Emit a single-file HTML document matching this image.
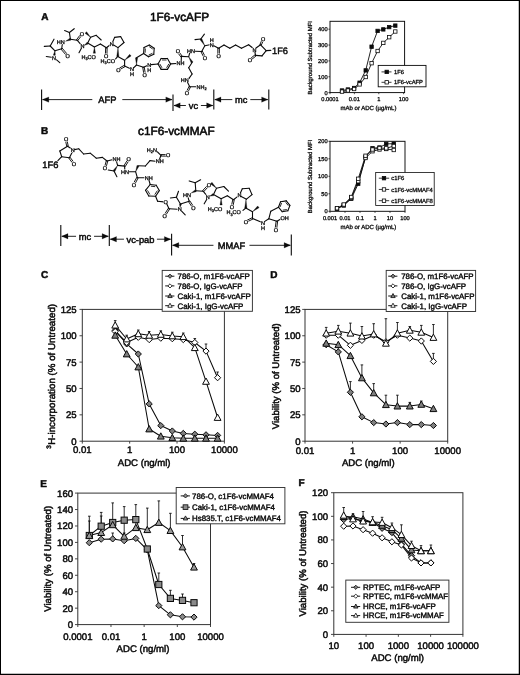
<!DOCTYPE html>
<html lang="en">
<head>
<meta charset="utf-8">
<title>Figure</title>
<style>
html,body{margin:0;padding:0;background:#fff;}
body{width:520px;height:675px;overflow:hidden;font-family:"Liberation Sans", sans-serif;}
svg{display:block;}
</style>
</head>
<body>
<svg width="520" height="675" viewBox="0 0 520 675" font-family='"Liberation Sans", sans-serif' text-rendering="geometricPrecision">
<rect x="0" y="0" width="520" height="675" fill="#fff"/>
<text x="41.3" y="19.7" font-size="10" text-anchor="start" font-weight="bold" fill="#0a0a0a" stroke="#0a0a0a" stroke-width="0.5" stroke-linejoin="round">A</text>
<text x="150" y="20.95" font-size="11.8" text-anchor="start" font-weight="normal" fill="#0a0a0a" stroke="#0a0a0a" stroke-width="0.59" stroke-linejoin="round">1F6-vcAFP</text>
<line x1="44.3" y1="46.4" x2="50.2" y2="46" stroke="#0a0a0a" stroke-width="1.1" stroke-linecap="round"/>
<line x1="50.2" y1="46" x2="54" y2="39.2" stroke="#0a0a0a" stroke-width="1.1" stroke-linecap="round"/>
<line x1="50.2" y1="46" x2="55" y2="50.8" stroke="#0a0a0a" stroke-width="1.1" stroke-linecap="round"/>
<polygon points="55,50.8 53.21,55.34 55.39,55.66" fill="#0a0a0a" stroke="#0a0a0a" stroke-width="0.3"/>
<line x1="46.3" y1="56.5" x2="51.5" y2="57.2" stroke="#0a0a0a" stroke-width="1.1" stroke-linecap="round"/>
<line x1="56" y1="59.4" x2="59.8" y2="62.7" stroke="#0a0a0a" stroke-width="1.1" stroke-linecap="round"/>
<text x="54" y="59.58" font-size="5.5" text-anchor="middle" font-weight="normal" fill="#fff" stroke="#fff" stroke-width="1.3" paint-order="stroke" stroke-linejoin="round">N</text>
<text x="54" y="59.58" font-size="5.5" text-anchor="middle" font-weight="normal" fill="#0a0a0a" stroke="#0a0a0a" stroke-width="0.3" stroke-linejoin="round">N</text>
<line x1="55" y1="50.8" x2="61.7" y2="48.8" stroke="#0a0a0a" stroke-width="1.1" stroke-linecap="round"/>
<line x1="61.13" y1="49.29" x2="65.73" y2="54.69" stroke="#0a0a0a" stroke-width="0.94" stroke-linecap="round"/>
<line x1="62.27" y1="48.31" x2="66.87" y2="53.71" stroke="#0a0a0a" stroke-width="0.94" stroke-linecap="round"/>
<text x="67.6" y="57.78" font-size="5.5" text-anchor="middle" font-weight="normal" fill="#fff" stroke="#fff" stroke-width="1.3" paint-order="stroke" stroke-linejoin="round">O</text>
<text x="67.6" y="57.78" font-size="5.5" text-anchor="middle" font-weight="normal" fill="#0a0a0a" stroke="#0a0a0a" stroke-width="0.3" stroke-linejoin="round">O</text>
<line x1="61.7" y1="48.8" x2="62.3" y2="44.3" stroke="#0a0a0a" stroke-width="1.1" stroke-linecap="round"/>
<text x="60.8" y="44.08" font-size="5.5" text-anchor="middle" font-weight="normal" fill="#fff" stroke="#fff" stroke-width="1.3" paint-order="stroke" stroke-linejoin="round">HN</text>
<text x="60.8" y="44.08" font-size="5.5" text-anchor="middle" font-weight="normal" fill="#0a0a0a" stroke="#0a0a0a" stroke-width="0.3" stroke-linejoin="round">HN</text>
<polygon points="65.5,41.3 70.83,40.21 69.97,38.19" fill="#0a0a0a" stroke="#0a0a0a" stroke-width="0.3"/>
<line x1="70.4" y1="39.2" x2="69.4" y2="32.5" stroke="#0a0a0a" stroke-width="1.1" stroke-linecap="round"/>
<line x1="69.4" y1="32.5" x2="64.6" y2="30.6" stroke="#0a0a0a" stroke-width="1.1" stroke-linecap="round"/>
<line x1="69.4" y1="32.5" x2="74.2" y2="28.7" stroke="#0a0a0a" stroke-width="1.1" stroke-linecap="round"/>
<line x1="70.4" y1="39.2" x2="77.1" y2="40.2" stroke="#0a0a0a" stroke-width="1.1" stroke-linecap="round"/>
<line x1="77.7" y1="40.65" x2="81.5" y2="35.65" stroke="#0a0a0a" stroke-width="0.94" stroke-linecap="round"/>
<line x1="76.5" y1="39.75" x2="80.3" y2="34.75" stroke="#0a0a0a" stroke-width="0.94" stroke-linecap="round"/>
<text x="82" y="35.78" font-size="5.5" text-anchor="middle" font-weight="normal" fill="#fff" stroke="#fff" stroke-width="1.3" paint-order="stroke" stroke-linejoin="round">O</text>
<text x="82" y="35.78" font-size="5.5" text-anchor="middle" font-weight="normal" fill="#0a0a0a" stroke="#0a0a0a" stroke-width="0.3" stroke-linejoin="round">O</text>
<line x1="77.1" y1="40.2" x2="81" y2="44.6" stroke="#0a0a0a" stroke-width="1.1" stroke-linecap="round"/>
<text x="82.4" y="48.18" font-size="5.5" text-anchor="middle" font-weight="normal" fill="#fff" stroke="#fff" stroke-width="1.3" paint-order="stroke" stroke-linejoin="round">N</text>
<text x="82.4" y="48.18" font-size="5.5" text-anchor="middle" font-weight="normal" fill="#0a0a0a" stroke="#0a0a0a" stroke-width="0.3" stroke-linejoin="round">N</text>
<line x1="81.4" y1="48.2" x2="79" y2="52.7" stroke="#0a0a0a" stroke-width="1.1" stroke-linecap="round"/>
<polygon points="84.2,45.4 88.3,44.02 87.1,42.18" fill="#0a0a0a" stroke="#0a0a0a" stroke-width="0.3"/>
<line x1="87.7" y1="43.1" x2="90.6" y2="37.3" stroke="#0a0a0a" stroke-width="1.1" stroke-linecap="round"/>
<polygon points="90.6,37.3 86.58,31.72 85.02,33.28" fill="#0a0a0a" stroke="#0a0a0a" stroke-width="0.3"/>
<line x1="90.6" y1="37.3" x2="96.2" y2="35.3" stroke="#0a0a0a" stroke-width="1.1" stroke-linecap="round"/>
<line x1="96.2" y1="35.3" x2="101.2" y2="40" stroke="#0a0a0a" stroke-width="1.1" stroke-linecap="round"/>
<line x1="87.7" y1="43.1" x2="94.4" y2="46.9" stroke="#0a0a0a" stroke-width="1.1" stroke-linecap="round"/>
<polygon points="94.4,46.9 93.3,53.2 95.5,53.2" fill="#0a0a0a" stroke="#0a0a0a" stroke-width="0.3"/>
<text x="95.8" y="58.58" font-size="5.5" text-anchor="end" font-weight="normal" fill="#fff" stroke="#fff" stroke-width="1.3" paint-order="stroke" stroke-linejoin="round">H<tspan font-size="3.8" dy="1.2">3</tspan><tspan dy="-1.2" font-size="0.1"> </tspan>CO</text>
<text x="95.8" y="58.58" font-size="5.5" text-anchor="end" font-weight="normal" fill="#0a0a0a" stroke="#0a0a0a" stroke-width="0.3" stroke-linejoin="round">H<tspan font-size="3.8" dy="1.2">3</tspan><tspan dy="-1.2" font-size="0.1"> </tspan>CO</text>
<line x1="94.4" y1="46.9" x2="100.4" y2="44" stroke="#0a0a0a" stroke-width="1.1" stroke-linecap="round"/>
<line x1="100.4" y1="44" x2="106.4" y2="47.8" stroke="#0a0a0a" stroke-width="1.1" stroke-linecap="round"/>
<line x1="105.65" y1="47.77" x2="105.45" y2="53.57" stroke="#0a0a0a" stroke-width="0.94" stroke-linecap="round"/>
<line x1="107.15" y1="47.83" x2="106.95" y2="53.63" stroke="#0a0a0a" stroke-width="0.94" stroke-linecap="round"/>
<text x="106.1" y="57.78" font-size="5.5" text-anchor="middle" font-weight="normal" fill="#fff" stroke="#fff" stroke-width="1.3" paint-order="stroke" stroke-linejoin="round">O</text>
<text x="106.1" y="57.78" font-size="5.5" text-anchor="middle" font-weight="normal" fill="#0a0a0a" stroke="#0a0a0a" stroke-width="0.3" stroke-linejoin="round">O</text>
<line x1="106.4" y1="47.8" x2="110.3" y2="44.8" stroke="#0a0a0a" stroke-width="1.1" stroke-linecap="round"/>
<text x="111.8" y="45.78" font-size="5.5" text-anchor="middle" font-weight="normal" fill="#fff" stroke="#fff" stroke-width="1.3" paint-order="stroke" stroke-linejoin="round">N</text>
<text x="111.8" y="45.78" font-size="5.5" text-anchor="middle" font-weight="normal" fill="#0a0a0a" stroke="#0a0a0a" stroke-width="0.3" stroke-linejoin="round">N</text>
<line x1="112.8" y1="41.8" x2="114.6" y2="37.4" stroke="#0a0a0a" stroke-width="1.1" stroke-linecap="round"/>
<line x1="114.6" y1="37.4" x2="120.6" y2="36.6" stroke="#0a0a0a" stroke-width="1.1" stroke-linecap="round"/>
<line x1="120.6" y1="36.6" x2="124" y2="42.5" stroke="#0a0a0a" stroke-width="1.1" stroke-linecap="round"/>
<line x1="124" y1="42.5" x2="118" y2="47.6" stroke="#0a0a0a" stroke-width="1.1" stroke-linecap="round"/>
<line x1="118" y1="47.6" x2="113.6" y2="45" stroke="#0a0a0a" stroke-width="1.1" stroke-linecap="round"/>
<polygon points="118,47.6 116.7,56.38 118.9,56.42" fill="#0a0a0a" stroke="#0a0a0a" stroke-width="0.3"/>
<text x="115" y="62.78" font-size="5.5" text-anchor="end" font-weight="normal" fill="#fff" stroke="#fff" stroke-width="1.3" paint-order="stroke" stroke-linejoin="round">H<tspan font-size="3.8" dy="1.2">3</tspan><tspan dy="-1.2" font-size="0.1"> </tspan>CO</text>
<text x="115" y="62.78" font-size="5.5" text-anchor="end" font-weight="normal" fill="#0a0a0a" stroke="#0a0a0a" stroke-width="0.3" stroke-linejoin="round">H<tspan font-size="3.8" dy="1.2">3</tspan><tspan dy="-1.2" font-size="0.1"> </tspan>CO</text>
<line x1="117.8" y1="56.4" x2="115.6" y2="58.8" stroke="#0a0a0a" stroke-width="1.1" stroke-linecap="round"/>
<line x1="117.8" y1="56.4" x2="124.6" y2="60.2" stroke="#0a0a0a" stroke-width="1.1" stroke-linecap="round"/>
<polygon points="124.6,60.2 131.12,56.03 129.68,54.37" fill="#0a0a0a" stroke="#0a0a0a" stroke-width="0.3"/>
<line x1="124.6" y1="60.2" x2="124.6" y2="66" stroke="#0a0a0a" stroke-width="1.1" stroke-linecap="round"/>
<line x1="124.23" y1="65.35" x2="119.63" y2="67.95" stroke="#0a0a0a" stroke-width="0.94" stroke-linecap="round"/>
<line x1="124.97" y1="66.65" x2="120.37" y2="69.25" stroke="#0a0a0a" stroke-width="0.94" stroke-linecap="round"/>
<text x="118.3" y="71.58" font-size="5.5" text-anchor="middle" font-weight="normal" fill="#fff" stroke="#fff" stroke-width="1.3" paint-order="stroke" stroke-linejoin="round">O</text>
<text x="118.3" y="71.58" font-size="5.5" text-anchor="middle" font-weight="normal" fill="#0a0a0a" stroke="#0a0a0a" stroke-width="0.3" stroke-linejoin="round">O</text>
<line x1="124.6" y1="66" x2="130" y2="68.4" stroke="#0a0a0a" stroke-width="1.1" stroke-linecap="round"/>
<text x="132" y="71.38" font-size="5.5" text-anchor="middle" font-weight="normal" fill="#fff" stroke="#fff" stroke-width="1.3" paint-order="stroke" stroke-linejoin="round">N</text>
<text x="132" y="71.38" font-size="5.5" text-anchor="middle" font-weight="normal" fill="#0a0a0a" stroke="#0a0a0a" stroke-width="0.3" stroke-linejoin="round">N</text>
<text x="132" y="76.48" font-size="5.5" text-anchor="middle" font-weight="normal" fill="#fff" stroke="#fff" stroke-width="1.3" paint-order="stroke" stroke-linejoin="round">H</text>
<text x="132" y="76.48" font-size="5.5" text-anchor="middle" font-weight="normal" fill="#0a0a0a" stroke="#0a0a0a" stroke-width="0.3" stroke-linejoin="round">H</text>
<line x1="133.6" y1="67.8" x2="136.5" y2="65" stroke="#0a0a0a" stroke-width="1.1" stroke-linecap="round"/>
<polygon points="136.5,65 137.6,57.8 135.4,57.8" fill="#0a0a0a" stroke="#0a0a0a" stroke-width="0.3"/>
<line x1="136.5" y1="57.8" x2="143.6" y2="53.5" stroke="#0a0a0a" stroke-width="1.1" stroke-linecap="round"/>
<line x1="143.6" y1="53.5" x2="144" y2="47.6" stroke="#0a0a0a" stroke-width="1.1" stroke-linecap="round"/>
<line x1="145.08" y1="52.77" x2="145.37" y2="48.52" stroke="#0a0a0a" stroke-width="0.88" stroke-linecap="butt"/>
<line x1="144" y1="47.6" x2="149.3" y2="45" stroke="#0a0a0a" stroke-width="1.1" stroke-linecap="round"/>
<line x1="149.3" y1="45" x2="154.2" y2="48.3" stroke="#0a0a0a" stroke-width="1.1" stroke-linecap="round"/>
<line x1="149.19" y1="46.65" x2="152.72" y2="49.03" stroke="#0a0a0a" stroke-width="0.88" stroke-linecap="butt"/>
<line x1="154.2" y1="48.3" x2="153.8" y2="54.2" stroke="#0a0a0a" stroke-width="1.1" stroke-linecap="round"/>
<line x1="153.8" y1="54.2" x2="148.5" y2="56.8" stroke="#0a0a0a" stroke-width="1.1" stroke-linecap="round"/>
<line x1="152.43" y1="53.28" x2="148.61" y2="55.15" stroke="#0a0a0a" stroke-width="0.88" stroke-linecap="butt"/>
<line x1="148.5" y1="56.8" x2="143.6" y2="53.5" stroke="#0a0a0a" stroke-width="1.1" stroke-linecap="round"/>
<line x1="136.5" y1="65" x2="143.5" y2="67.3" stroke="#0a0a0a" stroke-width="1.1" stroke-linecap="round"/>
<line x1="142.76" y1="67.42" x2="143.66" y2="72.92" stroke="#0a0a0a" stroke-width="0.94" stroke-linecap="round"/>
<line x1="144.24" y1="67.18" x2="145.14" y2="72.68" stroke="#0a0a0a" stroke-width="0.94" stroke-linecap="round"/>
<text x="144.6" y="76.98" font-size="5.5" text-anchor="middle" font-weight="normal" fill="#fff" stroke="#fff" stroke-width="1.3" paint-order="stroke" stroke-linejoin="round">O</text>
<text x="144.6" y="76.98" font-size="5.5" text-anchor="middle" font-weight="normal" fill="#0a0a0a" stroke="#0a0a0a" stroke-width="0.3" stroke-linejoin="round">O</text>
<line x1="143.5" y1="67.3" x2="147.4" y2="65.6" stroke="#0a0a0a" stroke-width="1.1" stroke-linecap="round"/>
<text x="149.3" y="66.98" font-size="5.5" text-anchor="middle" font-weight="normal" fill="#fff" stroke="#fff" stroke-width="1.3" paint-order="stroke" stroke-linejoin="round">N</text>
<text x="149.3" y="66.98" font-size="5.5" text-anchor="middle" font-weight="normal" fill="#0a0a0a" stroke="#0a0a0a" stroke-width="0.3" stroke-linejoin="round">N</text>
<text x="149.3" y="71.78" font-size="5.5" text-anchor="middle" font-weight="normal" fill="#fff" stroke="#fff" stroke-width="1.3" paint-order="stroke" stroke-linejoin="round">H</text>
<text x="149.3" y="71.78" font-size="5.5" text-anchor="middle" font-weight="normal" fill="#0a0a0a" stroke="#0a0a0a" stroke-width="0.3" stroke-linejoin="round">H</text>
<line x1="151.2" y1="64.6" x2="158" y2="64" stroke="#0a0a0a" stroke-width="1.1" stroke-linecap="round"/>
<line x1="170.6" y1="63.9" x2="167.45" y2="69.36" stroke="#0a0a0a" stroke-width="1.1" stroke-linecap="round"/>
<line x1="168.84" y1="63.9" x2="166.57" y2="67.83" stroke="#0a0a0a" stroke-width="0.88" stroke-linecap="butt"/>
<line x1="167.45" y1="69.36" x2="161.15" y2="69.36" stroke="#0a0a0a" stroke-width="1.1" stroke-linecap="round"/>
<line x1="161.15" y1="69.36" x2="158" y2="63.9" stroke="#0a0a0a" stroke-width="1.1" stroke-linecap="round"/>
<line x1="162.03" y1="67.83" x2="159.76" y2="63.9" stroke="#0a0a0a" stroke-width="0.88" stroke-linecap="butt"/>
<line x1="158" y1="63.9" x2="161.15" y2="58.44" stroke="#0a0a0a" stroke-width="1.1" stroke-linecap="round"/>
<line x1="161.15" y1="58.44" x2="167.45" y2="58.44" stroke="#0a0a0a" stroke-width="1.1" stroke-linecap="round"/>
<line x1="162.03" y1="59.97" x2="166.57" y2="59.97" stroke="#0a0a0a" stroke-width="0.88" stroke-linecap="butt"/>
<line x1="167.45" y1="58.44" x2="170.6" y2="63.9" stroke="#0a0a0a" stroke-width="1.1" stroke-linecap="round"/>
<line x1="170.6" y1="63.9" x2="176.4" y2="63.5" stroke="#0a0a0a" stroke-width="1.1" stroke-linecap="round"/>
<text x="180.4" y="65.38" font-size="5.5" text-anchor="middle" font-weight="normal" fill="#fff" stroke="#fff" stroke-width="1.3" paint-order="stroke" stroke-linejoin="round">NH</text>
<text x="180.4" y="65.38" font-size="5.5" text-anchor="middle" font-weight="normal" fill="#0a0a0a" stroke="#0a0a0a" stroke-width="0.3" stroke-linejoin="round">NH</text>
<line x1="181.2" y1="61" x2="181.4" y2="56.4" stroke="#0a0a0a" stroke-width="1.1" stroke-linecap="round"/>
<line x1="182.01" y1="55.96" x2="179.41" y2="52.36" stroke="#0a0a0a" stroke-width="0.94" stroke-linecap="round"/>
<line x1="180.79" y1="56.84" x2="178.19" y2="53.24" stroke="#0a0a0a" stroke-width="0.94" stroke-linecap="round"/>
<text x="178" y="53.28" font-size="5.5" text-anchor="middle" font-weight="normal" fill="#fff" stroke="#fff" stroke-width="1.3" paint-order="stroke" stroke-linejoin="round">O</text>
<text x="178" y="53.28" font-size="5.5" text-anchor="middle" font-weight="normal" fill="#0a0a0a" stroke="#0a0a0a" stroke-width="0.3" stroke-linejoin="round">O</text>
<line x1="181.4" y1="56.4" x2="188.7" y2="56.7" stroke="#0a0a0a" stroke-width="1.1" stroke-linecap="round"/>
<text x="191" y="52.98" font-size="5.5" text-anchor="middle" font-weight="normal" fill="#fff" stroke="#fff" stroke-width="1.3" paint-order="stroke" stroke-linejoin="round">HN</text>
<text x="191" y="52.98" font-size="5.5" text-anchor="middle" font-weight="normal" fill="#0a0a0a" stroke="#0a0a0a" stroke-width="0.3" stroke-linejoin="round">HN</text>
<line x1="188.7" y1="56.7" x2="189.6" y2="53.4" stroke="#0a0a0a" stroke-width="1.1" stroke-linecap="round"/>
<polygon points="188.7,56.7 191.15,63.06 193.05,61.94" fill="#0a0a0a" stroke="#0a0a0a" stroke-width="0.3"/>
<line x1="192.1" y1="62.5" x2="188.7" y2="67.7" stroke="#0a0a0a" stroke-width="1.1" stroke-linecap="round"/>
<line x1="188.7" y1="67.7" x2="192.1" y2="74" stroke="#0a0a0a" stroke-width="1.1" stroke-linecap="round"/>
<line x1="192.1" y1="74" x2="189.2" y2="78.1" stroke="#0a0a0a" stroke-width="1.1" stroke-linecap="round"/>
<line x1="189.2" y1="78.1" x2="188" y2="78.8" stroke="#0a0a0a" stroke-width="1.1" stroke-linecap="round"/>
<text x="184.8" y="82.38" font-size="5.5" text-anchor="middle" font-weight="normal" fill="#fff" stroke="#fff" stroke-width="1.3" paint-order="stroke" stroke-linejoin="round">HN</text>
<text x="184.8" y="82.38" font-size="5.5" text-anchor="middle" font-weight="normal" fill="#0a0a0a" stroke="#0a0a0a" stroke-width="0.3" stroke-linejoin="round">HN</text>
<line x1="187.6" y1="82.6" x2="189.8" y2="86.7" stroke="#0a0a0a" stroke-width="1.1" stroke-linecap="round"/>
<line x1="189.13" y1="86.36" x2="186.93" y2="90.66" stroke="#0a0a0a" stroke-width="0.94" stroke-linecap="round"/>
<line x1="190.47" y1="87.04" x2="188.27" y2="91.34" stroke="#0a0a0a" stroke-width="0.94" stroke-linecap="round"/>
<text x="186.9" y="94.88" font-size="5.5" text-anchor="middle" font-weight="normal" fill="#fff" stroke="#fff" stroke-width="1.3" paint-order="stroke" stroke-linejoin="round">O</text>
<text x="186.9" y="94.88" font-size="5.5" text-anchor="middle" font-weight="normal" fill="#0a0a0a" stroke="#0a0a0a" stroke-width="0.3" stroke-linejoin="round">O</text>
<line x1="189.8" y1="86.7" x2="195.8" y2="86.7" stroke="#0a0a0a" stroke-width="1.1" stroke-linecap="round"/>
<text x="196.6" y="88.78" font-size="5.5" text-anchor="start" font-weight="normal" fill="#fff" stroke="#fff" stroke-width="1.3" paint-order="stroke" stroke-linejoin="round">NH<tspan font-size="3.8" dy="1.2">2</tspan><tspan dy="-1.2" font-size="0.1"> </tspan></text>
<text x="196.6" y="88.78" font-size="5.5" text-anchor="start" font-weight="normal" fill="#0a0a0a" stroke="#0a0a0a" stroke-width="0.3" stroke-linejoin="round">NH<tspan font-size="3.8" dy="1.2">2</tspan><tspan dy="-1.2" font-size="0.1"> </tspan></text>
<line x1="195.2" y1="51.2" x2="201.7" y2="51.5" stroke="#0a0a0a" stroke-width="1.1" stroke-linecap="round"/>
<line x1="201.03" y1="51.84" x2="203.33" y2="56.34" stroke="#0a0a0a" stroke-width="0.94" stroke-linecap="round"/>
<line x1="202.37" y1="51.16" x2="204.67" y2="55.66" stroke="#0a0a0a" stroke-width="0.94" stroke-linecap="round"/>
<text x="204.8" y="59.98" font-size="5.5" text-anchor="middle" font-weight="normal" fill="#fff" stroke="#fff" stroke-width="1.3" paint-order="stroke" stroke-linejoin="round">O</text>
<text x="204.8" y="59.98" font-size="5.5" text-anchor="middle" font-weight="normal" fill="#0a0a0a" stroke="#0a0a0a" stroke-width="0.3" stroke-linejoin="round">O</text>
<line x1="201.7" y1="51.5" x2="204.8" y2="45.8" stroke="#0a0a0a" stroke-width="1.1" stroke-linecap="round"/>
<polygon points="204.8,45.8 201.75,38.44 199.85,39.56" fill="#0a0a0a" stroke="#0a0a0a" stroke-width="0.3"/>
<line x1="200.8" y1="39" x2="195" y2="39.6" stroke="#0a0a0a" stroke-width="1.1" stroke-linecap="round"/>
<line x1="200.8" y1="39" x2="204.4" y2="34.2" stroke="#0a0a0a" stroke-width="1.1" stroke-linecap="round"/>
<line x1="204.8" y1="45.8" x2="209.8" y2="44.8" stroke="#0a0a0a" stroke-width="1.1" stroke-linecap="round"/>
<text x="211.8" y="46.58" font-size="5.5" text-anchor="middle" font-weight="normal" fill="#fff" stroke="#fff" stroke-width="1.3" paint-order="stroke" stroke-linejoin="round">N</text>
<text x="211.8" y="46.58" font-size="5.5" text-anchor="middle" font-weight="normal" fill="#0a0a0a" stroke="#0a0a0a" stroke-width="0.3" stroke-linejoin="round">N</text>
<text x="211.8" y="41.58" font-size="5.5" text-anchor="middle" font-weight="normal" fill="#fff" stroke="#fff" stroke-width="1.3" paint-order="stroke" stroke-linejoin="round">H</text>
<text x="211.8" y="41.58" font-size="5.5" text-anchor="middle" font-weight="normal" fill="#0a0a0a" stroke="#0a0a0a" stroke-width="0.3" stroke-linejoin="round">H</text>
<line x1="213.8" y1="45.8" x2="218.6" y2="48.2" stroke="#0a0a0a" stroke-width="1.1" stroke-linecap="round"/>
<line x1="217.85" y1="48.2" x2="217.85" y2="53.8" stroke="#0a0a0a" stroke-width="0.94" stroke-linecap="round"/>
<line x1="219.35" y1="48.2" x2="219.35" y2="53.8" stroke="#0a0a0a" stroke-width="0.94" stroke-linecap="round"/>
<text x="218.7" y="57.98" font-size="5.5" text-anchor="middle" font-weight="normal" fill="#fff" stroke="#fff" stroke-width="1.3" paint-order="stroke" stroke-linejoin="round">O</text>
<text x="218.7" y="57.98" font-size="5.5" text-anchor="middle" font-weight="normal" fill="#0a0a0a" stroke="#0a0a0a" stroke-width="0.3" stroke-linejoin="round">O</text>
<line x1="218.6" y1="48.2" x2="224" y2="45" stroke="#0a0a0a" stroke-width="1.1" stroke-linecap="round"/>
<line x1="224" y1="45" x2="229.8" y2="48.2" stroke="#0a0a0a" stroke-width="1.1" stroke-linecap="round"/>
<line x1="229.8" y1="48.2" x2="235.6" y2="45" stroke="#0a0a0a" stroke-width="1.1" stroke-linecap="round"/>
<line x1="235.6" y1="45" x2="241.5" y2="48.2" stroke="#0a0a0a" stroke-width="1.1" stroke-linecap="round"/>
<line x1="241.5" y1="48.2" x2="248.6" y2="44.8" stroke="#0a0a0a" stroke-width="1.1" stroke-linecap="round"/>
<line x1="248.6" y1="44.8" x2="252.8" y2="48" stroke="#0a0a0a" stroke-width="1.1" stroke-linecap="round"/>
<text x="254.6" y="51.58" font-size="5.5" text-anchor="middle" font-weight="normal" fill="#fff" stroke="#fff" stroke-width="1.3" paint-order="stroke" stroke-linejoin="round">N</text>
<text x="254.6" y="51.58" font-size="5.5" text-anchor="middle" font-weight="normal" fill="#0a0a0a" stroke="#0a0a0a" stroke-width="0.3" stroke-linejoin="round">N</text>
<line x1="256" y1="48" x2="260.6" y2="44.8" stroke="#0a0a0a" stroke-width="1.1" stroke-linecap="round"/>
<line x1="261.28" y1="45.11" x2="263.18" y2="40.91" stroke="#0a0a0a" stroke-width="0.94" stroke-linecap="round"/>
<line x1="259.92" y1="44.49" x2="261.82" y2="40.29" stroke="#0a0a0a" stroke-width="0.94" stroke-linecap="round"/>
<text x="263.2" y="40.78" font-size="5.5" text-anchor="middle" font-weight="normal" fill="#fff" stroke="#fff" stroke-width="1.3" paint-order="stroke" stroke-linejoin="round">O</text>
<text x="263.2" y="40.78" font-size="5.5" text-anchor="middle" font-weight="normal" fill="#0a0a0a" stroke="#0a0a0a" stroke-width="0.3" stroke-linejoin="round">O</text>
<line x1="260.6" y1="44.8" x2="266.2" y2="50.6" stroke="#0a0a0a" stroke-width="1.1" stroke-linecap="round"/>
<line x1="266.2" y1="50.6" x2="262" y2="55.9" stroke="#0a0a0a" stroke-width="1.1" stroke-linecap="round"/>
<line x1="262" y1="55.9" x2="255.5" y2="55.4" stroke="#0a0a0a" stroke-width="1.1" stroke-linecap="round"/>
<line x1="255.5" y1="55.4" x2="254.9" y2="51.8" stroke="#0a0a0a" stroke-width="1.1" stroke-linecap="round"/>
<line x1="255.03" y1="54.82" x2="250.83" y2="58.22" stroke="#0a0a0a" stroke-width="0.94" stroke-linecap="round"/>
<line x1="255.97" y1="55.98" x2="251.77" y2="59.38" stroke="#0a0a0a" stroke-width="0.94" stroke-linecap="round"/>
<text x="249.8" y="62.18" font-size="5.5" text-anchor="middle" font-weight="normal" fill="#fff" stroke="#fff" stroke-width="1.3" paint-order="stroke" stroke-linejoin="round">O</text>
<text x="249.8" y="62.18" font-size="5.5" text-anchor="middle" font-weight="normal" fill="#0a0a0a" stroke="#0a0a0a" stroke-width="0.3" stroke-linejoin="round">O</text>
<line x1="266.2" y1="50.6" x2="270.8" y2="50.4" stroke="#0a0a0a" stroke-width="1.1" stroke-linecap="round"/>
<text x="272" y="53.55" font-size="9.3" text-anchor="start" font-weight="normal" fill="#0a0a0a" stroke="#0a0a0a" stroke-width="0.42" stroke-linejoin="round">1F6</text>
<line x1="41.6" y1="89.5" x2="41.6" y2="110" stroke="#0a0a0a" stroke-width="1.1" stroke-linecap="butt"/>
<line x1="173" y1="94.5" x2="173" y2="111" stroke="#0a0a0a" stroke-width="1.1" stroke-linecap="butt"/>
<line x1="213.8" y1="89.5" x2="213.8" y2="109.5" stroke="#0a0a0a" stroke-width="1.1" stroke-linecap="butt"/>
<line x1="268.8" y1="89.5" x2="268.8" y2="109.5" stroke="#0a0a0a" stroke-width="1.1" stroke-linecap="butt"/>
<line x1="42.6" y1="99.6" x2="92.3" y2="99.6" stroke="#0a0a0a" stroke-width="0.9" stroke-linecap="butt"/>
<line x1="122.3" y1="99.6" x2="172" y2="99.6" stroke="#0a0a0a" stroke-width="0.9" stroke-linecap="butt"/>
<polygon points="42.4,99.6 48.8,96.9 48.8,102.3" fill="#0a0a0a" stroke="#0a0a0a" stroke-width="0.2"/>
<polygon points="172.2,99.6 165.8,96.9 165.8,102.3" fill="#0a0a0a" stroke="#0a0a0a" stroke-width="0.2"/>
<text x="107.3" y="102.95" font-size="9.3" text-anchor="middle" font-weight="normal" fill="#0a0a0a" stroke="#0a0a0a" stroke-width="0.47" stroke-linejoin="round">AFP</text>
<line x1="174" y1="105.5" x2="185.9" y2="105.5" stroke="#0a0a0a" stroke-width="0.9" stroke-linecap="butt"/>
<line x1="200.9" y1="105.5" x2="212.8" y2="105.5" stroke="#0a0a0a" stroke-width="0.9" stroke-linecap="butt"/>
<polygon points="173.8,105.5 180.2,102.8 180.2,108.2" fill="#0a0a0a" stroke="#0a0a0a" stroke-width="0.2"/>
<polygon points="213,105.5 206.6,102.8 206.6,108.2" fill="#0a0a0a" stroke="#0a0a0a" stroke-width="0.2"/>
<text x="193.4" y="108.85" font-size="9.3" text-anchor="middle" font-weight="normal" fill="#0a0a0a" stroke="#0a0a0a" stroke-width="0.47" stroke-linejoin="round">vc</text>
<line x1="214.8" y1="99.6" x2="232.3" y2="99.6" stroke="#0a0a0a" stroke-width="0.9" stroke-linecap="butt"/>
<line x1="250.3" y1="99.6" x2="267.8" y2="99.6" stroke="#0a0a0a" stroke-width="0.9" stroke-linecap="butt"/>
<polygon points="214.6,99.6 221,96.9 221,102.3" fill="#0a0a0a" stroke="#0a0a0a" stroke-width="0.2"/>
<polygon points="268,99.6 261.6,96.9 261.6,102.3" fill="#0a0a0a" stroke="#0a0a0a" stroke-width="0.2"/>
<text x="241.3" y="102.95" font-size="9.3" text-anchor="middle" font-weight="normal" fill="#0a0a0a" stroke="#0a0a0a" stroke-width="0.47" stroke-linejoin="round">mc</text>
<rect x="330" y="21.3" width="74.6" height="71.3" fill="#fff" stroke="#0a0a0a" stroke-width="0.95"/>
<line x1="328.4" y1="92.6" x2="330" y2="92.6" stroke="#0a0a0a" stroke-width="0.7" stroke-linecap="butt"/>
<text x="327.6" y="94.65" font-size="5.7" text-anchor="end" font-weight="normal" fill="#0a0a0a" stroke="#0a0a0a" stroke-width="0.29" stroke-linejoin="round">0</text>
<line x1="328.4" y1="76.75" x2="330" y2="76.75" stroke="#0a0a0a" stroke-width="0.7" stroke-linecap="butt"/>
<text x="327.6" y="78.8" font-size="5.7" text-anchor="end" font-weight="normal" fill="#0a0a0a" stroke="#0a0a0a" stroke-width="0.29" stroke-linejoin="round">100</text>
<line x1="328.4" y1="60.9" x2="330" y2="60.9" stroke="#0a0a0a" stroke-width="0.7" stroke-linecap="butt"/>
<text x="327.6" y="62.95" font-size="5.7" text-anchor="end" font-weight="normal" fill="#0a0a0a" stroke="#0a0a0a" stroke-width="0.29" stroke-linejoin="round">200</text>
<line x1="328.4" y1="45.05" x2="330" y2="45.05" stroke="#0a0a0a" stroke-width="0.7" stroke-linecap="butt"/>
<text x="327.6" y="47.1" font-size="5.7" text-anchor="end" font-weight="normal" fill="#0a0a0a" stroke="#0a0a0a" stroke-width="0.29" stroke-linejoin="round">300</text>
<line x1="328.4" y1="29.2" x2="330" y2="29.2" stroke="#0a0a0a" stroke-width="0.7" stroke-linecap="butt"/>
<text x="327.6" y="31.25" font-size="5.7" text-anchor="end" font-weight="normal" fill="#0a0a0a" stroke="#0a0a0a" stroke-width="0.29" stroke-linejoin="round">400</text>
<line x1="330" y1="92.6" x2="330" y2="94.2" stroke="#0a0a0a" stroke-width="0.7" stroke-linecap="butt"/>
<text x="330" y="101.35" font-size="5.7" text-anchor="middle" font-weight="normal" fill="#0a0a0a" stroke="#0a0a0a" stroke-width="0.29" stroke-linejoin="round">0.0001</text>
<line x1="354.4" y1="92.6" x2="354.4" y2="94.2" stroke="#0a0a0a" stroke-width="0.7" stroke-linecap="butt"/>
<text x="354.4" y="101.35" font-size="5.7" text-anchor="middle" font-weight="normal" fill="#0a0a0a" stroke="#0a0a0a" stroke-width="0.29" stroke-linejoin="round">0.01</text>
<line x1="378.8" y1="92.6" x2="378.8" y2="94.2" stroke="#0a0a0a" stroke-width="0.7" stroke-linecap="butt"/>
<text x="378.8" y="101.35" font-size="5.7" text-anchor="middle" font-weight="normal" fill="#0a0a0a" stroke="#0a0a0a" stroke-width="0.29" stroke-linejoin="round">1</text>
<line x1="403.6" y1="92.6" x2="403.6" y2="94.2" stroke="#0a0a0a" stroke-width="0.7" stroke-linecap="butt"/>
<text x="403.6" y="101.35" font-size="5.7" text-anchor="middle" font-weight="normal" fill="#0a0a0a" stroke="#0a0a0a" stroke-width="0.29" stroke-linejoin="round">100</text>
<text x="368.5" y="109.66" font-size="6" text-anchor="middle" font-weight="normal" fill="#0a0a0a" stroke="#0a0a0a" stroke-width="0.3" stroke-linejoin="round">mAb or ADC (µg/mL)</text>
<text x="310.3" y="59.92" font-size="5.9" text-anchor="middle" font-weight="normal" fill="#0a0a0a" transform="rotate(-90 310.3 57.8)" stroke="#0a0a0a" stroke-width="0.3" stroke-linejoin="round">Background Subtracted MFI</text>
<polyline points="342,90.5 347.9,89.5 354.1,88 359.6,82.7 365.7,70.4 371.6,46.7 377.6,30.9 383.3,29.4 389.2,27.1 395.3,25.6" fill="none" stroke="#0a0a0a" stroke-width="0.9" stroke-linejoin="round"/>
<polyline points="342,91.6 347.9,90.5 354.1,89 359.6,84.4 365.7,77 371.6,63.2 377.6,51 383.3,42.9 389.2,37.2 395.3,31.5" fill="none" stroke="#0a0a0a" stroke-width="0.9" stroke-linejoin="round"/>
<rect x="340.3" y="88.8" width="3.4" height="3.4" fill="#0a0a0a" stroke="#0a0a0a" stroke-width="0.8"/>
<rect x="346.2" y="87.8" width="3.4" height="3.4" fill="#0a0a0a" stroke="#0a0a0a" stroke-width="0.8"/>
<rect x="352.4" y="86.3" width="3.4" height="3.4" fill="#0a0a0a" stroke="#0a0a0a" stroke-width="0.8"/>
<rect x="357.9" y="81" width="3.4" height="3.4" fill="#0a0a0a" stroke="#0a0a0a" stroke-width="0.8"/>
<rect x="364" y="68.7" width="3.4" height="3.4" fill="#0a0a0a" stroke="#0a0a0a" stroke-width="0.8"/>
<rect x="369.9" y="45" width="3.4" height="3.4" fill="#0a0a0a" stroke="#0a0a0a" stroke-width="0.8"/>
<rect x="375.9" y="29.2" width="3.4" height="3.4" fill="#0a0a0a" stroke="#0a0a0a" stroke-width="0.8"/>
<rect x="381.6" y="27.7" width="3.4" height="3.4" fill="#0a0a0a" stroke="#0a0a0a" stroke-width="0.8"/>
<rect x="387.5" y="25.4" width="3.4" height="3.4" fill="#0a0a0a" stroke="#0a0a0a" stroke-width="0.8"/>
<rect x="393.6" y="23.9" width="3.4" height="3.4" fill="#0a0a0a" stroke="#0a0a0a" stroke-width="0.8"/>
<rect x="340.3" y="89.9" width="3.4" height="3.4" fill="#fff" stroke="#0a0a0a" stroke-width="0.8"/>
<rect x="346.2" y="88.8" width="3.4" height="3.4" fill="#fff" stroke="#0a0a0a" stroke-width="0.8"/>
<rect x="352.4" y="87.3" width="3.4" height="3.4" fill="#fff" stroke="#0a0a0a" stroke-width="0.8"/>
<rect x="357.9" y="82.7" width="3.4" height="3.4" fill="#fff" stroke="#0a0a0a" stroke-width="0.8"/>
<rect x="364" y="75.3" width="3.4" height="3.4" fill="#fff" stroke="#0a0a0a" stroke-width="0.8"/>
<rect x="369.9" y="61.5" width="3.4" height="3.4" fill="#fff" stroke="#0a0a0a" stroke-width="0.8"/>
<rect x="375.9" y="49.3" width="3.4" height="3.4" fill="#fff" stroke="#0a0a0a" stroke-width="0.8"/>
<rect x="381.6" y="41.2" width="3.4" height="3.4" fill="#fff" stroke="#0a0a0a" stroke-width="0.8"/>
<rect x="387.5" y="35.5" width="3.4" height="3.4" fill="#fff" stroke="#0a0a0a" stroke-width="0.8"/>
<rect x="393.6" y="29.8" width="3.4" height="3.4" fill="#fff" stroke="#0a0a0a" stroke-width="0.8"/>
<rect x="378.2" y="65.4" width="47.8" height="21.4" fill="#fff" stroke="#0a0a0a" stroke-width="0.9"/>
<line x1="381.5" y1="71.9" x2="391.5" y2="71.9" stroke="#0a0a0a" stroke-width="0.8" stroke-linecap="butt"/>
<rect x="385" y="70.2" width="3.4" height="3.4" fill="#0a0a0a" stroke="#0a0a0a" stroke-width="0.8"/>
<text x="394" y="73.99" font-size="5.8" text-anchor="start" font-weight="normal" fill="#0a0a0a" stroke="#0a0a0a" stroke-width="0.29" stroke-linejoin="round">1F6</text>
<line x1="381.5" y1="82.3" x2="391.5" y2="82.3" stroke="#0a0a0a" stroke-width="0.8" stroke-linecap="butt"/>
<rect x="385" y="80.6" width="3.4" height="3.4" fill="#fff" stroke="#0a0a0a" stroke-width="0.8"/>
<text x="394" y="84.39" font-size="5.8" text-anchor="start" font-weight="normal" fill="#0a0a0a" stroke="#0a0a0a" stroke-width="0.29" stroke-linejoin="round">1F6-vcAFP</text>
<text x="41" y="134.1" font-size="10" text-anchor="start" font-weight="bold" fill="#0a0a0a" stroke="#0a0a0a" stroke-width="0.5" stroke-linejoin="round">B</text>
<text x="138" y="135.05" font-size="11.8" text-anchor="start" font-weight="normal" fill="#0a0a0a" stroke="#0a0a0a" stroke-width="0.59" stroke-linejoin="round">c1F6-vcMMAF</text>
<text x="42.3" y="167.75" font-size="9.3" text-anchor="start" font-weight="normal" fill="#0a0a0a" stroke="#0a0a0a" stroke-width="0.47" stroke-linejoin="round">1F6</text>
<line x1="57.9" y1="160.6" x2="61.7" y2="156.7" stroke="#0a0a0a" stroke-width="1.1" stroke-linecap="round"/>
<line x1="71.5" y1="148.8" x2="67.5" y2="146.2" stroke="#0a0a0a" stroke-width="1.1" stroke-linecap="round"/>
<line x1="67.5" y1="146.2" x2="59.8" y2="151" stroke="#0a0a0a" stroke-width="1.1" stroke-linecap="round"/>
<line x1="59.8" y1="151" x2="61.7" y2="156.7" stroke="#0a0a0a" stroke-width="1.1" stroke-linecap="round"/>
<line x1="61.7" y1="156.7" x2="69.4" y2="157.7" stroke="#0a0a0a" stroke-width="1.1" stroke-linecap="round"/>
<line x1="69.4" y1="157.7" x2="72.2" y2="152.2" stroke="#0a0a0a" stroke-width="1.1" stroke-linecap="round"/>
<line x1="68.23" y1="146.04" x2="67.23" y2="141.44" stroke="#0a0a0a" stroke-width="0.94" stroke-linecap="round"/>
<line x1="66.77" y1="146.36" x2="65.77" y2="141.76" stroke="#0a0a0a" stroke-width="0.94" stroke-linecap="round"/>
<text x="66.2" y="141.38" font-size="5.5" text-anchor="middle" font-weight="normal" fill="#fff" stroke="#fff" stroke-width="1.3" paint-order="stroke" stroke-linejoin="round">O</text>
<text x="66.2" y="141.38" font-size="5.5" text-anchor="middle" font-weight="normal" fill="#0a0a0a" stroke="#0a0a0a" stroke-width="0.3" stroke-linejoin="round">O</text>
<line x1="68.8" y1="158.15" x2="72" y2="162.35" stroke="#0a0a0a" stroke-width="0.94" stroke-linecap="round"/>
<line x1="70" y1="157.25" x2="73.2" y2="161.45" stroke="#0a0a0a" stroke-width="0.94" stroke-linecap="round"/>
<text x="73.9" y="165.58" font-size="5.5" text-anchor="middle" font-weight="normal" fill="#fff" stroke="#fff" stroke-width="1.3" paint-order="stroke" stroke-linejoin="round">O</text>
<text x="73.9" y="165.58" font-size="5.5" text-anchor="middle" font-weight="normal" fill="#0a0a0a" stroke="#0a0a0a" stroke-width="0.3" stroke-linejoin="round">O</text>
<text x="72.8" y="152.18" font-size="5.5" text-anchor="middle" font-weight="normal" fill="#fff" stroke="#fff" stroke-width="1.3" paint-order="stroke" stroke-linejoin="round">N</text>
<text x="72.8" y="152.18" font-size="5.5" text-anchor="middle" font-weight="normal" fill="#0a0a0a" stroke="#0a0a0a" stroke-width="0.3" stroke-linejoin="round">N</text>
<line x1="74.6" y1="149.6" x2="78.8" y2="148.8" stroke="#0a0a0a" stroke-width="1.1" stroke-linecap="round"/>
<line x1="78.8" y1="148.8" x2="83.6" y2="154" stroke="#0a0a0a" stroke-width="1.1" stroke-linecap="round"/>
<line x1="83.6" y1="154" x2="90.2" y2="153.2" stroke="#0a0a0a" stroke-width="1.1" stroke-linecap="round"/>
<line x1="90.2" y1="153.2" x2="96.2" y2="158.2" stroke="#0a0a0a" stroke-width="1.1" stroke-linecap="round"/>
<line x1="96.2" y1="158.2" x2="102.4" y2="157.4" stroke="#0a0a0a" stroke-width="1.1" stroke-linecap="round"/>
<line x1="102.4" y1="157.4" x2="107" y2="161" stroke="#0a0a0a" stroke-width="1.1" stroke-linecap="round"/>
<line x1="106.28" y1="160.81" x2="104.88" y2="166.01" stroke="#0a0a0a" stroke-width="0.94" stroke-linecap="round"/>
<line x1="107.72" y1="161.19" x2="106.32" y2="166.39" stroke="#0a0a0a" stroke-width="0.94" stroke-linecap="round"/>
<text x="105" y="170.28" font-size="5.5" text-anchor="middle" font-weight="normal" fill="#fff" stroke="#fff" stroke-width="1.3" paint-order="stroke" stroke-linejoin="round">O</text>
<text x="105" y="170.28" font-size="5.5" text-anchor="middle" font-weight="normal" fill="#0a0a0a" stroke="#0a0a0a" stroke-width="0.3" stroke-linejoin="round">O</text>
<line x1="107" y1="161" x2="112.2" y2="159.8" stroke="#0a0a0a" stroke-width="1.1" stroke-linecap="round"/>
<text x="116.4" y="161.38" font-size="5.5" text-anchor="middle" font-weight="normal" fill="#fff" stroke="#fff" stroke-width="1.3" paint-order="stroke" stroke-linejoin="round">NH</text>
<text x="116.4" y="161.38" font-size="5.5" text-anchor="middle" font-weight="normal" fill="#0a0a0a" stroke="#0a0a0a" stroke-width="0.3" stroke-linejoin="round">NH</text>
<line x1="116.6" y1="161.8" x2="117.6" y2="165.4" stroke="#0a0a0a" stroke-width="1.1" stroke-linecap="round"/>
<polygon points="117.6,165.4 113.07,170.41 114.93,171.59" fill="#0a0a0a" stroke="#0a0a0a" stroke-width="0.3"/>
<line x1="114" y1="171" x2="108.3" y2="170" stroke="#0a0a0a" stroke-width="1.1" stroke-linecap="round"/>
<line x1="114" y1="171" x2="116.9" y2="176.7" stroke="#0a0a0a" stroke-width="1.1" stroke-linecap="round"/>
<line x1="117.6" y1="165.4" x2="124.6" y2="166.1" stroke="#0a0a0a" stroke-width="1.1" stroke-linecap="round"/>
<line x1="125.24" y1="166.49" x2="128.24" y2="161.59" stroke="#0a0a0a" stroke-width="0.94" stroke-linecap="round"/>
<line x1="123.96" y1="165.71" x2="126.96" y2="160.81" stroke="#0a0a0a" stroke-width="0.94" stroke-linecap="round"/>
<text x="128.6" y="161.38" font-size="5.5" text-anchor="middle" font-weight="normal" fill="#fff" stroke="#fff" stroke-width="1.3" paint-order="stroke" stroke-linejoin="round">O</text>
<text x="128.6" y="161.38" font-size="5.5" text-anchor="middle" font-weight="normal" fill="#0a0a0a" stroke="#0a0a0a" stroke-width="0.3" stroke-linejoin="round">O</text>
<line x1="124.6" y1="166.1" x2="124.8" y2="169.5" stroke="#0a0a0a" stroke-width="1.1" stroke-linecap="round"/>
<text x="125" y="173.88" font-size="5.5" text-anchor="middle" font-weight="normal" fill="#fff" stroke="#fff" stroke-width="1.3" paint-order="stroke" stroke-linejoin="round">HN</text>
<text x="125" y="173.88" font-size="5.5" text-anchor="middle" font-weight="normal" fill="#0a0a0a" stroke="#0a0a0a" stroke-width="0.3" stroke-linejoin="round">HN</text>
<line x1="129.4" y1="171.8" x2="135.6" y2="171.7" stroke="#0a0a0a" stroke-width="1.1" stroke-linecap="round"/>
<polygon points="135.6,171.7 139.02,166.21 136.98,165.39" fill="#0a0a0a" stroke="#0a0a0a" stroke-width="0.3"/>
<line x1="138" y1="165.8" x2="145.4" y2="166" stroke="#0a0a0a" stroke-width="1.1" stroke-linecap="round"/>
<line x1="145.4" y1="166" x2="150" y2="160.6" stroke="#0a0a0a" stroke-width="1.1" stroke-linecap="round"/>
<line x1="150" y1="160.6" x2="155.4" y2="161.3" stroke="#0a0a0a" stroke-width="1.1" stroke-linecap="round"/>
<text x="159.8" y="163.48" font-size="5.5" text-anchor="middle" font-weight="normal" fill="#fff" stroke="#fff" stroke-width="1.3" paint-order="stroke" stroke-linejoin="round">NH</text>
<text x="159.8" y="163.48" font-size="5.5" text-anchor="middle" font-weight="normal" fill="#0a0a0a" stroke="#0a0a0a" stroke-width="0.3" stroke-linejoin="round">NH</text>
<line x1="159.6" y1="159" x2="161" y2="155.3" stroke="#0a0a0a" stroke-width="1.1" stroke-linecap="round"/>
<line x1="160.99" y1="156.05" x2="165.99" y2="156.15" stroke="#0a0a0a" stroke-width="0.94" stroke-linecap="round"/>
<line x1="161.01" y1="154.55" x2="166.01" y2="154.65" stroke="#0a0a0a" stroke-width="0.94" stroke-linecap="round"/>
<text x="168.2" y="157.48" font-size="5.5" text-anchor="middle" font-weight="normal" fill="#fff" stroke="#fff" stroke-width="1.3" paint-order="stroke" stroke-linejoin="round">O</text>
<text x="168.2" y="157.48" font-size="5.5" text-anchor="middle" font-weight="normal" fill="#0a0a0a" stroke="#0a0a0a" stroke-width="0.3" stroke-linejoin="round">O</text>
<line x1="161" y1="155.3" x2="157" y2="151.5" stroke="#0a0a0a" stroke-width="1.1" stroke-linecap="round"/>
<text x="151.8" y="151.88" font-size="5.5" text-anchor="middle" font-weight="normal" fill="#fff" stroke="#fff" stroke-width="1.3" paint-order="stroke" stroke-linejoin="round">H<tspan font-size="3.8" dy="1.2">2</tspan><tspan dy="-1.2" font-size="0.1"> </tspan>N</text>
<text x="151.8" y="151.88" font-size="5.5" text-anchor="middle" font-weight="normal" fill="#0a0a0a" stroke="#0a0a0a" stroke-width="0.3" stroke-linejoin="round">H<tspan font-size="3.8" dy="1.2">2</tspan><tspan dy="-1.2" font-size="0.1"> </tspan>N</text>
<line x1="135.6" y1="171.7" x2="137.4" y2="177.8" stroke="#0a0a0a" stroke-width="1.1" stroke-linecap="round"/>
<line x1="136.74" y1="177.44" x2="134.14" y2="182.24" stroke="#0a0a0a" stroke-width="0.94" stroke-linecap="round"/>
<line x1="138.06" y1="178.16" x2="135.46" y2="182.96" stroke="#0a0a0a" stroke-width="0.94" stroke-linecap="round"/>
<text x="134" y="186.58" font-size="5.5" text-anchor="middle" font-weight="normal" fill="#fff" stroke="#fff" stroke-width="1.3" paint-order="stroke" stroke-linejoin="round">O</text>
<text x="134" y="186.58" font-size="5.5" text-anchor="middle" font-weight="normal" fill="#0a0a0a" stroke="#0a0a0a" stroke-width="0.3" stroke-linejoin="round">O</text>
<line x1="137.4" y1="177.8" x2="144.3" y2="177.8" stroke="#0a0a0a" stroke-width="1.1" stroke-linecap="round"/>
<text x="148.8" y="179.78" font-size="5.5" text-anchor="middle" font-weight="normal" fill="#fff" stroke="#fff" stroke-width="1.3" paint-order="stroke" stroke-linejoin="round">NH</text>
<text x="148.8" y="179.78" font-size="5.5" text-anchor="middle" font-weight="normal" fill="#0a0a0a" stroke="#0a0a0a" stroke-width="0.3" stroke-linejoin="round">NH</text>
<line x1="149" y1="180.4" x2="150.2" y2="184.5" stroke="#0a0a0a" stroke-width="1.1" stroke-linecap="round"/>
<line x1="150.2" y1="184.5" x2="156.2" y2="185.2" stroke="#0a0a0a" stroke-width="1.1" stroke-linecap="round"/>
<line x1="150.87" y1="186.17" x2="155.19" y2="186.67" stroke="#0a0a0a" stroke-width="0.88" stroke-linecap="butt"/>
<line x1="156.2" y1="185.2" x2="159.3" y2="190.6" stroke="#0a0a0a" stroke-width="1.1" stroke-linecap="round"/>
<line x1="159.3" y1="190.6" x2="155.6" y2="196.2" stroke="#0a0a0a" stroke-width="1.1" stroke-linecap="round"/>
<line x1="157.42" y1="190.56" x2="154.76" y2="194.59" stroke="#0a0a0a" stroke-width="0.88" stroke-linecap="butt"/>
<line x1="155.6" y1="196.2" x2="148.8" y2="196" stroke="#0a0a0a" stroke-width="1.1" stroke-linecap="round"/>
<line x1="148.8" y1="196" x2="145.5" y2="190.3" stroke="#0a0a0a" stroke-width="1.1" stroke-linecap="round"/>
<line x1="149.86" y1="194.45" x2="147.49" y2="190.35" stroke="#0a0a0a" stroke-width="0.88" stroke-linecap="butt"/>
<line x1="145.5" y1="190.3" x2="150.2" y2="184.5" stroke="#0a0a0a" stroke-width="1.1" stroke-linecap="round"/>
<line x1="155.6" y1="196.2" x2="157.6" y2="201.3" stroke="#0a0a0a" stroke-width="1.1" stroke-linecap="round"/>
<line x1="157.6" y1="201.3" x2="163.7" y2="201.9" stroke="#0a0a0a" stroke-width="1.1" stroke-linecap="round"/>
<text x="165.7" y="203.98" font-size="5.5" text-anchor="middle" font-weight="normal" fill="#fff" stroke="#fff" stroke-width="1.3" paint-order="stroke" stroke-linejoin="round">O</text>
<text x="165.7" y="203.98" font-size="5.5" text-anchor="middle" font-weight="normal" fill="#0a0a0a" stroke="#0a0a0a" stroke-width="0.3" stroke-linejoin="round">O</text>
<line x1="166.8" y1="203.9" x2="169" y2="208.7" stroke="#0a0a0a" stroke-width="1.1" stroke-linecap="round"/>
<line x1="168.37" y1="208.3" x2="164.97" y2="213.6" stroke="#0a0a0a" stroke-width="0.94" stroke-linecap="round"/>
<line x1="169.63" y1="209.1" x2="166.23" y2="214.4" stroke="#0a0a0a" stroke-width="0.94" stroke-linecap="round"/>
<text x="164.7" y="217.98" font-size="5.5" text-anchor="middle" font-weight="normal" fill="#fff" stroke="#fff" stroke-width="1.3" paint-order="stroke" stroke-linejoin="round">O</text>
<text x="164.7" y="217.98" font-size="5.5" text-anchor="middle" font-weight="normal" fill="#0a0a0a" stroke="#0a0a0a" stroke-width="0.3" stroke-linejoin="round">O</text>
<line x1="169" y1="208.7" x2="177.6" y2="209.3" stroke="#0a0a0a" stroke-width="1.1" stroke-linecap="round"/>
<text x="179.8" y="211.48" font-size="5.5" text-anchor="middle" font-weight="normal" fill="#fff" stroke="#fff" stroke-width="1.3" paint-order="stroke" stroke-linejoin="round">N</text>
<text x="179.8" y="211.48" font-size="5.5" text-anchor="middle" font-weight="normal" fill="#0a0a0a" stroke="#0a0a0a" stroke-width="0.3" stroke-linejoin="round">N</text>
<line x1="181.6" y1="211.2" x2="185.2" y2="214.8" stroke="#0a0a0a" stroke-width="1.1" stroke-linecap="round"/>
<polygon points="180,207.2 181.59,204.17 179.41,203.83" fill="#0a0a0a" stroke="#0a0a0a" stroke-width="0.3"/>
<line x1="180.5" y1="204" x2="176.4" y2="197.3" stroke="#0a0a0a" stroke-width="1.1" stroke-linecap="round"/>
<line x1="176.4" y1="197.3" x2="170.4" y2="198" stroke="#0a0a0a" stroke-width="1.1" stroke-linecap="round"/>
<line x1="176.4" y1="197.3" x2="178.5" y2="191.2" stroke="#0a0a0a" stroke-width="1.1" stroke-linecap="round"/>
<line x1="180.5" y1="204" x2="189.2" y2="201.3" stroke="#0a0a0a" stroke-width="1.1" stroke-linecap="round"/>
<line x1="188.57" y1="201.71" x2="191.67" y2="206.41" stroke="#0a0a0a" stroke-width="0.94" stroke-linecap="round"/>
<line x1="189.83" y1="200.89" x2="192.93" y2="205.59" stroke="#0a0a0a" stroke-width="0.94" stroke-linecap="round"/>
<text x="193.4" y="209.88" font-size="5.5" text-anchor="middle" font-weight="normal" fill="#fff" stroke="#fff" stroke-width="1.3" paint-order="stroke" stroke-linejoin="round">O</text>
<text x="193.4" y="209.88" font-size="5.5" text-anchor="middle" font-weight="normal" fill="#0a0a0a" stroke="#0a0a0a" stroke-width="0.3" stroke-linejoin="round">O</text>
<line x1="189.2" y1="201.3" x2="188" y2="197.2" stroke="#0a0a0a" stroke-width="1.1" stroke-linecap="round"/>
<text x="187" y="196.68" font-size="5.5" text-anchor="middle" font-weight="normal" fill="#fff" stroke="#fff" stroke-width="1.3" paint-order="stroke" stroke-linejoin="round">HN</text>
<text x="187" y="196.68" font-size="5.5" text-anchor="middle" font-weight="normal" fill="#0a0a0a" stroke="#0a0a0a" stroke-width="0.3" stroke-linejoin="round">HN</text>
<polygon points="191.2,193 196.29,191.68 195.31,189.72" fill="#0a0a0a" stroke="#0a0a0a" stroke-width="0.3"/>
<line x1="195.8" y1="190.7" x2="195.2" y2="182.8" stroke="#0a0a0a" stroke-width="1.1" stroke-linecap="round"/>
<line x1="195.2" y1="182.8" x2="189.2" y2="180.9" stroke="#0a0a0a" stroke-width="1.1" stroke-linecap="round"/>
<line x1="195.2" y1="182.8" x2="200.6" y2="179.8" stroke="#0a0a0a" stroke-width="1.1" stroke-linecap="round"/>
<line x1="195.8" y1="190.7" x2="203.1" y2="191.2" stroke="#0a0a0a" stroke-width="1.1" stroke-linecap="round"/>
<line x1="203.65" y1="191.71" x2="208.15" y2="186.91" stroke="#0a0a0a" stroke-width="0.94" stroke-linecap="round"/>
<line x1="202.55" y1="190.69" x2="207.05" y2="185.89" stroke="#0a0a0a" stroke-width="0.94" stroke-linecap="round"/>
<text x="208.9" y="186.78" font-size="5.5" text-anchor="middle" font-weight="normal" fill="#fff" stroke="#fff" stroke-width="1.3" paint-order="stroke" stroke-linejoin="round">O</text>
<text x="208.9" y="186.78" font-size="5.5" text-anchor="middle" font-weight="normal" fill="#0a0a0a" stroke="#0a0a0a" stroke-width="0.3" stroke-linejoin="round">O</text>
<line x1="203.1" y1="191.2" x2="206.6" y2="195.4" stroke="#0a0a0a" stroke-width="1.1" stroke-linecap="round"/>
<text x="207.8" y="198.98" font-size="5.5" text-anchor="middle" font-weight="normal" fill="#fff" stroke="#fff" stroke-width="1.3" paint-order="stroke" stroke-linejoin="round">N</text>
<text x="207.8" y="198.98" font-size="5.5" text-anchor="middle" font-weight="normal" fill="#0a0a0a" stroke="#0a0a0a" stroke-width="0.3" stroke-linejoin="round">N</text>
<line x1="206.8" y1="199.2" x2="204.2" y2="203.8" stroke="#0a0a0a" stroke-width="1.1" stroke-linecap="round"/>
<polygon points="209.6,196.2 213.92,195.62 213.08,193.58" fill="#0a0a0a" stroke="#0a0a0a" stroke-width="0.3"/>
<line x1="213.5" y1="194.6" x2="216.5" y2="188.2" stroke="#0a0a0a" stroke-width="1.1" stroke-linecap="round"/>
<polygon points="216.5,188.2 211.96,182.31 210.44,183.89" fill="#0a0a0a" stroke="#0a0a0a" stroke-width="0.3"/>
<line x1="216.5" y1="188.2" x2="223.8" y2="186.5" stroke="#0a0a0a" stroke-width="1.1" stroke-linecap="round"/>
<line x1="223.8" y1="186.5" x2="228.5" y2="191.2" stroke="#0a0a0a" stroke-width="1.1" stroke-linecap="round"/>
<line x1="213.5" y1="194.6" x2="221.1" y2="198.8" stroke="#0a0a0a" stroke-width="1.1" stroke-linecap="round"/>
<polygon points="221.1,198.8 220,205 222.2,205" fill="#0a0a0a" stroke="#0a0a0a" stroke-width="0.3"/>
<text x="222.2" y="210.88" font-size="5.5" text-anchor="end" font-weight="normal" fill="#fff" stroke="#fff" stroke-width="1.3" paint-order="stroke" stroke-linejoin="round">H<tspan font-size="3.8" dy="1.2">3</tspan><tspan dy="-1.2" font-size="0.1"> </tspan>CO</text>
<text x="222.2" y="210.88" font-size="5.5" text-anchor="end" font-weight="normal" fill="#0a0a0a" stroke="#0a0a0a" stroke-width="0.3" stroke-linejoin="round">H<tspan font-size="3.8" dy="1.2">3</tspan><tspan dy="-1.2" font-size="0.1"> </tspan>CO</text>
<line x1="221.1" y1="198.8" x2="227.3" y2="195.8" stroke="#0a0a0a" stroke-width="1.1" stroke-linecap="round"/>
<line x1="227.3" y1="195.8" x2="233.5" y2="199.7" stroke="#0a0a0a" stroke-width="1.1" stroke-linecap="round"/>
<line x1="232.76" y1="199.55" x2="231.66" y2="205.05" stroke="#0a0a0a" stroke-width="0.94" stroke-linecap="round"/>
<line x1="234.24" y1="199.85" x2="233.14" y2="205.35" stroke="#0a0a0a" stroke-width="0.94" stroke-linecap="round"/>
<text x="231.9" y="209.38" font-size="5.5" text-anchor="middle" font-weight="normal" fill="#fff" stroke="#fff" stroke-width="1.3" paint-order="stroke" stroke-linejoin="round">O</text>
<text x="231.9" y="209.38" font-size="5.5" text-anchor="middle" font-weight="normal" fill="#0a0a0a" stroke="#0a0a0a" stroke-width="0.3" stroke-linejoin="round">O</text>
<line x1="233.5" y1="199.7" x2="237.8" y2="196.4" stroke="#0a0a0a" stroke-width="1.1" stroke-linecap="round"/>
<text x="239.5" y="197.18" font-size="5.5" text-anchor="middle" font-weight="normal" fill="#fff" stroke="#fff" stroke-width="1.3" paint-order="stroke" stroke-linejoin="round">N</text>
<text x="239.5" y="197.18" font-size="5.5" text-anchor="middle" font-weight="normal" fill="#0a0a0a" stroke="#0a0a0a" stroke-width="0.3" stroke-linejoin="round">N</text>
<line x1="240.4" y1="193" x2="242.3" y2="188.8" stroke="#0a0a0a" stroke-width="1.1" stroke-linecap="round"/>
<line x1="242.3" y1="188.8" x2="249.2" y2="188.2" stroke="#0a0a0a" stroke-width="1.1" stroke-linecap="round"/>
<line x1="249.2" y1="188.2" x2="252" y2="194.6" stroke="#0a0a0a" stroke-width="1.1" stroke-linecap="round"/>
<line x1="252" y1="194.6" x2="246.5" y2="199.2" stroke="#0a0a0a" stroke-width="1.1" stroke-linecap="round"/>
<line x1="246.5" y1="199.2" x2="241.2" y2="196.4" stroke="#0a0a0a" stroke-width="1.1" stroke-linecap="round"/>
<polygon points="246,199.2 244.7,207.98 246.9,208.02" fill="#0a0a0a" stroke="#0a0a0a" stroke-width="0.3"/>
<text x="240.8" y="214.48" font-size="5.5" text-anchor="end" font-weight="normal" fill="#fff" stroke="#fff" stroke-width="1.3" paint-order="stroke" stroke-linejoin="round">H<tspan font-size="3.8" dy="1.2">3</tspan><tspan dy="-1.2" font-size="0.1"> </tspan>CO</text>
<text x="240.8" y="214.48" font-size="5.5" text-anchor="end" font-weight="normal" fill="#0a0a0a" stroke="#0a0a0a" stroke-width="0.3" stroke-linejoin="round">H<tspan font-size="3.8" dy="1.2">3</tspan><tspan dy="-1.2" font-size="0.1"> </tspan>CO</text>
<line x1="245.8" y1="208" x2="243" y2="210.4" stroke="#0a0a0a" stroke-width="1.1" stroke-linecap="round"/>
<line x1="245.8" y1="208" x2="252.5" y2="211.7" stroke="#0a0a0a" stroke-width="1.1" stroke-linecap="round"/>
<polygon points="252.5,211.7 259.1,207.65 257.7,205.95" fill="#0a0a0a" stroke="#0a0a0a" stroke-width="0.3"/>
<line x1="252.5" y1="211.7" x2="252.5" y2="218.4" stroke="#0a0a0a" stroke-width="1.1" stroke-linecap="round"/>
<line x1="252.17" y1="217.73" x2="247.27" y2="220.13" stroke="#0a0a0a" stroke-width="0.94" stroke-linecap="round"/>
<line x1="252.83" y1="219.07" x2="247.93" y2="221.47" stroke="#0a0a0a" stroke-width="0.94" stroke-linecap="round"/>
<text x="245.8" y="223.68" font-size="5.5" text-anchor="middle" font-weight="normal" fill="#fff" stroke="#fff" stroke-width="1.3" paint-order="stroke" stroke-linejoin="round">O</text>
<text x="245.8" y="223.68" font-size="5.5" text-anchor="middle" font-weight="normal" fill="#0a0a0a" stroke="#0a0a0a" stroke-width="0.3" stroke-linejoin="round">O</text>
<line x1="252.5" y1="218.4" x2="261" y2="222" stroke="#0a0a0a" stroke-width="1.1" stroke-linecap="round"/>
<text x="263.1" y="224.88" font-size="5.5" text-anchor="middle" font-weight="normal" fill="#fff" stroke="#fff" stroke-width="1.3" paint-order="stroke" stroke-linejoin="round">N</text>
<text x="263.1" y="224.88" font-size="5.5" text-anchor="middle" font-weight="normal" fill="#0a0a0a" stroke="#0a0a0a" stroke-width="0.3" stroke-linejoin="round">N</text>
<text x="263.1" y="230.18" font-size="5.5" text-anchor="middle" font-weight="normal" fill="#fff" stroke="#fff" stroke-width="1.3" paint-order="stroke" stroke-linejoin="round">H</text>
<text x="263.1" y="230.18" font-size="5.5" text-anchor="middle" font-weight="normal" fill="#0a0a0a" stroke="#0a0a0a" stroke-width="0.3" stroke-linejoin="round">H</text>
<line x1="264.8" y1="221.4" x2="268.8" y2="218.8" stroke="#0a0a0a" stroke-width="1.1" stroke-linecap="round"/>
<line x1="268.8" y1="218.8" x2="270.8" y2="211.2" stroke="#0a0a0a" stroke-width="1.1" stroke-linecap="round"/>
<line x1="270.8" y1="211.2" x2="278.5" y2="207.2" stroke="#0a0a0a" stroke-width="1.1" stroke-linecap="round"/>
<line x1="278.47" y1="207.21" x2="280.55" y2="201.79" stroke="#0a0a0a" stroke-width="1.1" stroke-linecap="round"/>
<line x1="280.08" y1="206.95" x2="281.57" y2="203.05" stroke="#0a0a0a" stroke-width="0.88" stroke-linecap="butt"/>
<line x1="280.55" y1="201.79" x2="286.28" y2="200.89" stroke="#0a0a0a" stroke-width="1.1" stroke-linecap="round"/>
<line x1="286.28" y1="200.89" x2="289.93" y2="205.39" stroke="#0a0a0a" stroke-width="1.1" stroke-linecap="round"/>
<line x1="285.7" y1="202.4" x2="288.32" y2="205.65" stroke="#0a0a0a" stroke-width="0.88" stroke-linecap="butt"/>
<line x1="289.93" y1="205.39" x2="287.85" y2="210.81" stroke="#0a0a0a" stroke-width="1.1" stroke-linecap="round"/>
<line x1="287.85" y1="210.81" x2="282.12" y2="211.71" stroke="#0a0a0a" stroke-width="1.1" stroke-linecap="round"/>
<line x1="286.83" y1="209.55" x2="282.7" y2="210.2" stroke="#0a0a0a" stroke-width="0.88" stroke-linecap="butt"/>
<line x1="282.12" y1="211.71" x2="278.47" y2="207.21" stroke="#0a0a0a" stroke-width="1.1" stroke-linecap="round"/>
<line x1="268.8" y1="218.8" x2="276.9" y2="221.2" stroke="#0a0a0a" stroke-width="1.1" stroke-linecap="round"/>
<line x1="276.16" y1="221.1" x2="275.26" y2="227.9" stroke="#0a0a0a" stroke-width="0.94" stroke-linecap="round"/>
<line x1="277.64" y1="221.3" x2="276.74" y2="228.1" stroke="#0a0a0a" stroke-width="0.94" stroke-linecap="round"/>
<text x="275.8" y="232.48" font-size="5.5" text-anchor="middle" font-weight="normal" fill="#fff" stroke="#fff" stroke-width="1.3" paint-order="stroke" stroke-linejoin="round">O</text>
<text x="275.8" y="232.48" font-size="5.5" text-anchor="middle" font-weight="normal" fill="#0a0a0a" stroke="#0a0a0a" stroke-width="0.3" stroke-linejoin="round">O</text>
<line x1="276.9" y1="221.2" x2="280.4" y2="219.2" stroke="#0a0a0a" stroke-width="1.1" stroke-linecap="round"/>
<text x="284.6" y="220.28" font-size="5.5" text-anchor="middle" font-weight="normal" fill="#fff" stroke="#fff" stroke-width="1.3" paint-order="stroke" stroke-linejoin="round">OH</text>
<text x="284.6" y="220.28" font-size="5.5" text-anchor="middle" font-weight="normal" fill="#0a0a0a" stroke="#0a0a0a" stroke-width="0.3" stroke-linejoin="round">OH</text>
<line x1="60.8" y1="225" x2="60.8" y2="246" stroke="#0a0a0a" stroke-width="1.1" stroke-linecap="butt"/>
<line x1="109.3" y1="225" x2="109.3" y2="246" stroke="#0a0a0a" stroke-width="1.1" stroke-linecap="butt"/>
<line x1="171.6" y1="233.7" x2="171.6" y2="255.4" stroke="#0a0a0a" stroke-width="1.1" stroke-linecap="butt"/>
<line x1="291.3" y1="234.6" x2="291.3" y2="255.4" stroke="#0a0a0a" stroke-width="1.1" stroke-linecap="butt"/>
<line x1="61.8" y1="236.3" x2="76.05" y2="236.3" stroke="#0a0a0a" stroke-width="0.9" stroke-linecap="butt"/>
<line x1="94.05" y1="236.3" x2="108.3" y2="236.3" stroke="#0a0a0a" stroke-width="0.9" stroke-linecap="butt"/>
<polygon points="61.6,236.3 68,233.6 68,239" fill="#0a0a0a" stroke="#0a0a0a" stroke-width="0.2"/>
<polygon points="108.5,236.3 102.1,233.6 102.1,239" fill="#0a0a0a" stroke="#0a0a0a" stroke-width="0.2"/>
<text x="85.05" y="239.65" font-size="9.3" text-anchor="middle" font-weight="normal" fill="#0a0a0a" stroke="#0a0a0a" stroke-width="0.47" stroke-linejoin="round">mc</text>
<line x1="110.3" y1="239.2" x2="123.95" y2="239.2" stroke="#0a0a0a" stroke-width="0.9" stroke-linecap="butt"/>
<line x1="156.95" y1="239.2" x2="170.6" y2="239.2" stroke="#0a0a0a" stroke-width="0.9" stroke-linecap="butt"/>
<polygon points="110.1,239.2 116.5,236.5 116.5,241.9" fill="#0a0a0a" stroke="#0a0a0a" stroke-width="0.2"/>
<polygon points="170.8,239.2 164.4,236.5 164.4,241.9" fill="#0a0a0a" stroke="#0a0a0a" stroke-width="0.2"/>
<text x="140.45" y="242.55" font-size="9.3" text-anchor="middle" font-weight="normal" fill="#0a0a0a" stroke="#0a0a0a" stroke-width="0.47" stroke-linejoin="round">vc-pab</text>
<line x1="172.6" y1="245.3" x2="213.45" y2="245.3" stroke="#0a0a0a" stroke-width="0.9" stroke-linecap="butt"/>
<line x1="249.45" y1="245.3" x2="290.3" y2="245.3" stroke="#0a0a0a" stroke-width="0.9" stroke-linecap="butt"/>
<polygon points="172.4,245.3 178.8,242.6 178.8,248" fill="#0a0a0a" stroke="#0a0a0a" stroke-width="0.2"/>
<polygon points="290.5,245.3 284.1,242.6 284.1,248" fill="#0a0a0a" stroke="#0a0a0a" stroke-width="0.2"/>
<text x="231.45" y="248.65" font-size="9.3" text-anchor="middle" font-weight="normal" fill="#0a0a0a" stroke="#0a0a0a" stroke-width="0.47" stroke-linejoin="round">MMAF</text>
<rect x="330" y="141.3" width="75" height="70" fill="#fff" stroke="#0a0a0a" stroke-width="0.95"/>
<line x1="328.4" y1="211.3" x2="330" y2="211.3" stroke="#0a0a0a" stroke-width="0.7" stroke-linecap="butt"/>
<text x="327.6" y="213.35" font-size="5.7" text-anchor="end" font-weight="normal" fill="#0a0a0a" stroke="#0a0a0a" stroke-width="0.29" stroke-linejoin="round">0</text>
<line x1="328.4" y1="193.8" x2="330" y2="193.8" stroke="#0a0a0a" stroke-width="0.7" stroke-linecap="butt"/>
<text x="327.6" y="195.85" font-size="5.7" text-anchor="end" font-weight="normal" fill="#0a0a0a" stroke="#0a0a0a" stroke-width="0.29" stroke-linejoin="round">50</text>
<line x1="328.4" y1="176.3" x2="330" y2="176.3" stroke="#0a0a0a" stroke-width="0.7" stroke-linecap="butt"/>
<text x="327.6" y="178.35" font-size="5.7" text-anchor="end" font-weight="normal" fill="#0a0a0a" stroke="#0a0a0a" stroke-width="0.29" stroke-linejoin="round">100</text>
<line x1="328.4" y1="158.8" x2="330" y2="158.8" stroke="#0a0a0a" stroke-width="0.7" stroke-linecap="butt"/>
<text x="327.6" y="160.85" font-size="5.7" text-anchor="end" font-weight="normal" fill="#0a0a0a" stroke="#0a0a0a" stroke-width="0.29" stroke-linejoin="round">150</text>
<line x1="328.4" y1="141.3" x2="330" y2="141.3" stroke="#0a0a0a" stroke-width="0.7" stroke-linecap="butt"/>
<text x="327.6" y="143.35" font-size="5.7" text-anchor="end" font-weight="normal" fill="#0a0a0a" stroke="#0a0a0a" stroke-width="0.29" stroke-linejoin="round">200</text>
<line x1="330" y1="211.3" x2="330" y2="212.9" stroke="#0a0a0a" stroke-width="0.7" stroke-linecap="butt"/>
<text x="330" y="219.85" font-size="5.7" text-anchor="middle" font-weight="normal" fill="#0a0a0a" stroke="#0a0a0a" stroke-width="0.29" stroke-linejoin="round">0.001</text>
<line x1="345" y1="211.3" x2="345" y2="212.9" stroke="#0a0a0a" stroke-width="0.7" stroke-linecap="butt"/>
<text x="345" y="219.85" font-size="5.7" text-anchor="middle" font-weight="normal" fill="#0a0a0a" stroke="#0a0a0a" stroke-width="0.29" stroke-linejoin="round">0.01</text>
<line x1="360" y1="211.3" x2="360" y2="212.9" stroke="#0a0a0a" stroke-width="0.7" stroke-linecap="butt"/>
<text x="360" y="219.85" font-size="5.7" text-anchor="middle" font-weight="normal" fill="#0a0a0a" stroke="#0a0a0a" stroke-width="0.29" stroke-linejoin="round">0.1</text>
<line x1="375" y1="211.3" x2="375" y2="212.9" stroke="#0a0a0a" stroke-width="0.7" stroke-linecap="butt"/>
<text x="375" y="219.85" font-size="5.7" text-anchor="middle" font-weight="normal" fill="#0a0a0a" stroke="#0a0a0a" stroke-width="0.29" stroke-linejoin="round">1</text>
<line x1="390" y1="211.3" x2="390" y2="212.9" stroke="#0a0a0a" stroke-width="0.7" stroke-linecap="butt"/>
<text x="390" y="219.85" font-size="5.7" text-anchor="middle" font-weight="normal" fill="#0a0a0a" stroke="#0a0a0a" stroke-width="0.29" stroke-linejoin="round">10</text>
<line x1="405" y1="211.3" x2="405" y2="212.9" stroke="#0a0a0a" stroke-width="0.7" stroke-linecap="butt"/>
<text x="405" y="219.85" font-size="5.7" text-anchor="middle" font-weight="normal" fill="#0a0a0a" stroke="#0a0a0a" stroke-width="0.29" stroke-linejoin="round">100</text>
<text x="368.4" y="228.76" font-size="6" text-anchor="middle" font-weight="normal" fill="#0a0a0a" stroke="#0a0a0a" stroke-width="0.3" stroke-linejoin="round">mAb or ADC (µg/mL)</text>
<text x="310.3" y="178.62" font-size="5.9" text-anchor="middle" font-weight="normal" fill="#0a0a0a" transform="rotate(-90 310.3 176.5)" stroke="#0a0a0a" stroke-width="0.3" stroke-linejoin="round">Background Subtracted MFI</text>
<polyline points="337,208.75 343.75,205.5 351.25,198.75 358.25,183.75 365.5,157 372.5,148.25 379.5,147.5 386.25,143.9 393.75,143.7" fill="none" stroke="#0a0a0a" stroke-width="0.9" stroke-linejoin="round"/>
<polyline points="337,208.25 343.75,204.5 351.25,197 358.25,178.75 365.5,155.75 372.5,149.5 379.5,148 386.25,148.3 393.75,146" fill="none" stroke="#0a0a0a" stroke-width="0.9" stroke-linejoin="round"/>
<polyline points="337,208.75 343.75,205 351.25,198 358.25,181.25 365.5,158 372.5,151.25 379.5,149.5 386.25,149 393.75,150" fill="none" stroke="#0a0a0a" stroke-width="0.9" stroke-linejoin="round"/>
<rect x="335.3" y="207.05" width="3.4" height="3.4" fill="#0a0a0a" stroke="#0a0a0a" stroke-width="0.8"/>
<rect x="342.05" y="203.8" width="3.4" height="3.4" fill="#0a0a0a" stroke="#0a0a0a" stroke-width="0.8"/>
<rect x="349.55" y="197.05" width="3.4" height="3.4" fill="#0a0a0a" stroke="#0a0a0a" stroke-width="0.8"/>
<rect x="356.55" y="182.05" width="3.4" height="3.4" fill="#0a0a0a" stroke="#0a0a0a" stroke-width="0.8"/>
<rect x="363.8" y="155.3" width="3.4" height="3.4" fill="#0a0a0a" stroke="#0a0a0a" stroke-width="0.8"/>
<rect x="370.8" y="146.55" width="3.4" height="3.4" fill="#0a0a0a" stroke="#0a0a0a" stroke-width="0.8"/>
<rect x="377.8" y="145.8" width="3.4" height="3.4" fill="#0a0a0a" stroke="#0a0a0a" stroke-width="0.8"/>
<rect x="384.55" y="142.2" width="3.4" height="3.4" fill="#0a0a0a" stroke="#0a0a0a" stroke-width="0.8"/>
<rect x="392.05" y="142" width="3.4" height="3.4" fill="#0a0a0a" stroke="#0a0a0a" stroke-width="0.8"/>
<rect x="335.3" y="207.05" width="3.4" height="3.4" fill="#fff" stroke="#0a0a0a" stroke-width="0.8"/>
<rect x="342.05" y="203.3" width="3.4" height="3.4" fill="#fff" stroke="#0a0a0a" stroke-width="0.8"/>
<rect x="349.55" y="196.3" width="3.4" height="3.4" fill="#fff" stroke="#0a0a0a" stroke-width="0.8"/>
<rect x="356.55" y="179.55" width="3.4" height="3.4" fill="#fff" stroke="#0a0a0a" stroke-width="0.8"/>
<rect x="363.8" y="156.3" width="3.4" height="3.4" fill="#fff" stroke="#0a0a0a" stroke-width="0.8"/>
<rect x="370.8" y="149.55" width="3.4" height="3.4" fill="#fff" stroke="#0a0a0a" stroke-width="0.8"/>
<rect x="377.8" y="147.8" width="3.4" height="3.4" fill="#fff" stroke="#0a0a0a" stroke-width="0.8"/>
<rect x="384.55" y="147.3" width="3.4" height="3.4" fill="#fff" stroke="#0a0a0a" stroke-width="0.8"/>
<rect x="392.05" y="148.3" width="3.4" height="3.4" fill="#fff" stroke="#0a0a0a" stroke-width="0.8"/>
<rect x="335.3" y="206.55" width="3.4" height="3.4" fill="#fff" stroke="#0a0a0a" stroke-width="0.8"/>
<rect x="342.05" y="202.8" width="3.4" height="3.4" fill="#fff" stroke="#0a0a0a" stroke-width="0.8"/>
<rect x="349.55" y="195.3" width="3.4" height="3.4" fill="#fff" stroke="#0a0a0a" stroke-width="0.8"/>
<rect x="356.55" y="177.05" width="3.4" height="3.4" fill="#fff" stroke="#0a0a0a" stroke-width="0.8"/>
<rect x="363.8" y="154.05" width="3.4" height="3.4" fill="#fff" stroke="#0a0a0a" stroke-width="0.8"/>
<rect x="370.8" y="147.8" width="3.4" height="3.4" fill="#fff" stroke="#0a0a0a" stroke-width="0.8"/>
<rect x="377.8" y="146.3" width="3.4" height="3.4" fill="#fff" stroke="#0a0a0a" stroke-width="0.8"/>
<rect x="384.55" y="146.6" width="3.4" height="3.4" fill="#fff" stroke="#0a0a0a" stroke-width="0.8"/>
<rect x="392.05" y="144.3" width="3.4" height="3.4" fill="#fff" stroke="#0a0a0a" stroke-width="0.8"/>
<rect x="375.7" y="172.4" width="58.5" height="33" fill="#fff" stroke="#0a0a0a" stroke-width="0.8"/>
<line x1="378.8" y1="178.2" x2="389.2" y2="178.2" stroke="#0a0a0a" stroke-width="0.8" stroke-linecap="butt"/>
<rect x="382.3" y="176.5" width="3.4" height="3.4" fill="#0a0a0a" stroke="#0a0a0a" stroke-width="0.8"/>
<text x="391.3" y="180.32" font-size="5.9" text-anchor="start" font-weight="normal" fill="#0a0a0a" stroke="#0a0a0a" stroke-width="0.3" stroke-linejoin="round">c1F6</text>
<line x1="378.8" y1="189.45" x2="389.2" y2="189.45" stroke="#0a0a0a" stroke-width="0.8" stroke-linecap="butt"/>
<rect x="382.3" y="187.75" width="3.4" height="3.4" fill="#fff" stroke="#0a0a0a" stroke-width="0.8"/>
<text x="391.3" y="191.57" font-size="5.9" text-anchor="start" font-weight="normal" fill="#0a0a0a" stroke="#0a0a0a" stroke-width="0.3" stroke-linejoin="round">c1F6-vcMMAF4</text>
<line x1="378.8" y1="200.7" x2="389.2" y2="200.7" stroke="#0a0a0a" stroke-width="0.8" stroke-linecap="butt"/>
<rect x="382.3" y="199" width="3.4" height="3.4" fill="#fff" stroke="#0a0a0a" stroke-width="0.8"/>
<text x="391.3" y="202.82" font-size="5.9" text-anchor="start" font-weight="normal" fill="#0a0a0a" stroke="#0a0a0a" stroke-width="0.3" stroke-linejoin="round">c1F6-vcMMAF8</text>
<rect x="82.3" y="309.4" width="142.1" height="131.8" fill="#fff" stroke="#333" stroke-width="1"/>
<line x1="79.5" y1="441.2" x2="82.3" y2="441.2" stroke="#333" stroke-width="0.9" stroke-linecap="butt"/>
<text x="76.7" y="444.66" font-size="9.6" text-anchor="end" font-weight="normal" fill="#0a0a0a" stroke="#0a0a0a" stroke-width="0.48" stroke-linejoin="round">0</text>
<line x1="79.5" y1="414.84" x2="82.3" y2="414.84" stroke="#333" stroke-width="0.9" stroke-linecap="butt"/>
<text x="76.7" y="418.3" font-size="9.6" text-anchor="end" font-weight="normal" fill="#0a0a0a" stroke="#0a0a0a" stroke-width="0.48" stroke-linejoin="round">25</text>
<line x1="79.5" y1="388.48" x2="82.3" y2="388.48" stroke="#333" stroke-width="0.9" stroke-linecap="butt"/>
<text x="76.7" y="391.94" font-size="9.6" text-anchor="end" font-weight="normal" fill="#0a0a0a" stroke="#0a0a0a" stroke-width="0.48" stroke-linejoin="round">50</text>
<line x1="79.5" y1="362.12" x2="82.3" y2="362.12" stroke="#333" stroke-width="0.9" stroke-linecap="butt"/>
<text x="76.7" y="365.58" font-size="9.6" text-anchor="end" font-weight="normal" fill="#0a0a0a" stroke="#0a0a0a" stroke-width="0.48" stroke-linejoin="round">75</text>
<line x1="79.5" y1="335.76" x2="82.3" y2="335.76" stroke="#333" stroke-width="0.9" stroke-linecap="butt"/>
<text x="76.7" y="339.22" font-size="9.6" text-anchor="end" font-weight="normal" fill="#0a0a0a" stroke="#0a0a0a" stroke-width="0.48" stroke-linejoin="round">100</text>
<line x1="79.5" y1="309.4" x2="82.3" y2="309.4" stroke="#333" stroke-width="0.9" stroke-linecap="butt"/>
<text x="76.7" y="312.86" font-size="9.6" text-anchor="end" font-weight="normal" fill="#0a0a0a" stroke="#0a0a0a" stroke-width="0.48" stroke-linejoin="round">125</text>
<line x1="82.3" y1="441.2" x2="82.3" y2="443.6" stroke="#333" stroke-width="0.9" stroke-linecap="butt"/>
<text x="82.3" y="452.66" font-size="9.6" text-anchor="middle" font-weight="normal" fill="#0a0a0a" stroke="#0a0a0a" stroke-width="0.48" stroke-linejoin="round">0.01</text>
<line x1="129.67" y1="441.2" x2="129.67" y2="443.6" stroke="#333" stroke-width="0.9" stroke-linecap="butt"/>
<text x="129.67" y="452.66" font-size="9.6" text-anchor="middle" font-weight="normal" fill="#0a0a0a" stroke="#0a0a0a" stroke-width="0.48" stroke-linejoin="round">1</text>
<line x1="177.03" y1="441.2" x2="177.03" y2="443.6" stroke="#333" stroke-width="0.9" stroke-linecap="butt"/>
<text x="177.03" y="452.66" font-size="9.6" text-anchor="middle" font-weight="normal" fill="#0a0a0a" stroke="#0a0a0a" stroke-width="0.48" stroke-linejoin="round">100</text>
<line x1="224.4" y1="441.2" x2="224.4" y2="443.6" stroke="#333" stroke-width="0.9" stroke-linecap="butt"/>
<text x="224.4" y="452.66" font-size="9.6" text-anchor="middle" font-weight="normal" fill="#0a0a0a" stroke="#0a0a0a" stroke-width="0.48" stroke-linejoin="round">10000</text>
<text x="144.2" y="466.06" font-size="9.6" text-anchor="middle" font-weight="normal" fill="#0a0a0a" stroke="#0a0a0a" stroke-width="0.48" stroke-linejoin="round">ADC (ng/ml)</text>
<text x="51.3" y="379.81" font-size="9.75" text-anchor="middle" font-weight="normal" fill="#0a0a0a" transform="rotate(-90 51.3 376.3)" stroke="#0a0a0a" stroke-width="0.49" stroke-linejoin="round"><tspan font-size="6.4" dy="-3.9">3</tspan><tspan dy="3.9" dx="0.3">H-incorporation (% of Untreated)</tspan></text>
<line x1="115.2" y1="325.2" x2="115.2" y2="320.6" stroke="#0a0a0a" stroke-width="0.85" stroke-linecap="butt"/>
<line x1="113.9" y1="320.6" x2="116.5" y2="320.6" stroke="#0a0a0a" stroke-width="0.85" stroke-linecap="butt"/>
<line x1="126.7" y1="339" x2="126.7" y2="335.2" stroke="#0a0a0a" stroke-width="0.85" stroke-linecap="butt"/>
<line x1="125.4" y1="335.2" x2="128" y2="335.2" stroke="#0a0a0a" stroke-width="0.85" stroke-linecap="butt"/>
<line x1="138.3" y1="333.8" x2="138.3" y2="330" stroke="#0a0a0a" stroke-width="0.85" stroke-linecap="butt"/>
<line x1="137" y1="330" x2="139.6" y2="330" stroke="#0a0a0a" stroke-width="0.85" stroke-linecap="butt"/>
<line x1="149.2" y1="335.3" x2="149.2" y2="331.5" stroke="#0a0a0a" stroke-width="0.85" stroke-linecap="butt"/>
<line x1="147.9" y1="331.5" x2="150.5" y2="331.5" stroke="#0a0a0a" stroke-width="0.85" stroke-linecap="butt"/>
<line x1="160.8" y1="334.4" x2="160.8" y2="330.8" stroke="#0a0a0a" stroke-width="0.85" stroke-linecap="butt"/>
<line x1="159.5" y1="330.8" x2="162.1" y2="330.8" stroke="#0a0a0a" stroke-width="0.85" stroke-linecap="butt"/>
<line x1="172.3" y1="335.9" x2="172.3" y2="332.2" stroke="#0a0a0a" stroke-width="0.85" stroke-linecap="butt"/>
<line x1="171" y1="332.2" x2="173.6" y2="332.2" stroke="#0a0a0a" stroke-width="0.85" stroke-linecap="butt"/>
<line x1="183.3" y1="336.7" x2="183.3" y2="333" stroke="#0a0a0a" stroke-width="0.85" stroke-linecap="butt"/>
<line x1="182" y1="333" x2="184.6" y2="333" stroke="#0a0a0a" stroke-width="0.85" stroke-linecap="butt"/>
<line x1="194.8" y1="342.5" x2="194.8" y2="338.5" stroke="#0a0a0a" stroke-width="0.85" stroke-linecap="butt"/>
<line x1="193.5" y1="338.5" x2="196.1" y2="338.5" stroke="#0a0a0a" stroke-width="0.85" stroke-linecap="butt"/>
<line x1="206" y1="351.1" x2="206" y2="344" stroke="#0a0a0a" stroke-width="0.85" stroke-linecap="butt"/>
<line x1="204.7" y1="344" x2="207.3" y2="344" stroke="#0a0a0a" stroke-width="0.85" stroke-linecap="butt"/>
<line x1="217.6" y1="377.7" x2="217.6" y2="372" stroke="#0a0a0a" stroke-width="0.85" stroke-linecap="butt"/>
<line x1="216.3" y1="372" x2="218.9" y2="372" stroke="#0a0a0a" stroke-width="0.85" stroke-linecap="butt"/>
<polyline points="115.2,330.4 126.7,343.9 138.3,354 149.2,403.9 160.8,425.6 172.3,431 183.3,433.4 194.8,434.2 206,434.8 217.6,435.4" fill="none" stroke="#0a0a0a" stroke-width="1.05" stroke-linejoin="round"/>
<polyline points="115.2,331.5 126.7,342.5 138.3,337.3 149.2,339.6 160.8,338.2 172.3,338.7 183.3,339.6 194.8,342.5 206,351.1 217.6,377.7" fill="none" stroke="#0a0a0a" stroke-width="1.05" stroke-linejoin="round"/>
<polyline points="115.2,335.3 126.7,354 138.3,367 149.2,429 160.8,436.2 172.3,437.7 183.3,438.3 194.8,438.3 206,438.3 217.6,438.3" fill="none" stroke="#0a0a0a" stroke-width="1.05" stroke-linejoin="round"/>
<polyline points="115.2,325.2 126.7,339 138.3,333.8 149.2,335.3 160.8,334.4 172.3,335.9 183.3,336.7 194.8,347.7 206,381.4 217.6,417.5" fill="none" stroke="#0a0a0a" stroke-width="1.05" stroke-linejoin="round"/>
<polygon points="115.2,327.3 118.3,330.4 115.2,333.5 112.1,330.4" fill="#808080" stroke="#0a0a0a" stroke-width="1"/>
<polygon points="126.7,340.8 129.8,343.9 126.7,347 123.6,343.9" fill="#808080" stroke="#0a0a0a" stroke-width="1"/>
<polygon points="138.3,350.9 141.4,354 138.3,357.1 135.2,354" fill="#808080" stroke="#0a0a0a" stroke-width="1"/>
<polygon points="149.2,400.8 152.3,403.9 149.2,407 146.1,403.9" fill="#808080" stroke="#0a0a0a" stroke-width="1"/>
<polygon points="160.8,422.5 163.9,425.6 160.8,428.7 157.7,425.6" fill="#808080" stroke="#0a0a0a" stroke-width="1"/>
<polygon points="172.3,427.9 175.4,431 172.3,434.1 169.2,431" fill="#808080" stroke="#0a0a0a" stroke-width="1"/>
<polygon points="183.3,430.3 186.4,433.4 183.3,436.5 180.2,433.4" fill="#808080" stroke="#0a0a0a" stroke-width="1"/>
<polygon points="194.8,431.1 197.9,434.2 194.8,437.3 191.7,434.2" fill="#808080" stroke="#0a0a0a" stroke-width="1"/>
<polygon points="206,431.7 209.1,434.8 206,437.9 202.9,434.8" fill="#808080" stroke="#0a0a0a" stroke-width="1"/>
<polygon points="217.6,432.3 220.7,435.4 217.6,438.5 214.5,435.4" fill="#808080" stroke="#0a0a0a" stroke-width="1"/>
<polygon points="115.2,328.4 118.3,331.5 115.2,334.6 112.1,331.5" fill="#fff" stroke="#0a0a0a" stroke-width="1"/>
<polygon points="126.7,339.4 129.8,342.5 126.7,345.6 123.6,342.5" fill="#fff" stroke="#0a0a0a" stroke-width="1"/>
<polygon points="138.3,334.2 141.4,337.3 138.3,340.4 135.2,337.3" fill="#fff" stroke="#0a0a0a" stroke-width="1"/>
<polygon points="149.2,336.5 152.3,339.6 149.2,342.7 146.1,339.6" fill="#fff" stroke="#0a0a0a" stroke-width="1"/>
<polygon points="160.8,335.1 163.9,338.2 160.8,341.3 157.7,338.2" fill="#fff" stroke="#0a0a0a" stroke-width="1"/>
<polygon points="172.3,335.6 175.4,338.7 172.3,341.8 169.2,338.7" fill="#fff" stroke="#0a0a0a" stroke-width="1"/>
<polygon points="183.3,336.5 186.4,339.6 183.3,342.7 180.2,339.6" fill="#fff" stroke="#0a0a0a" stroke-width="1"/>
<polygon points="194.8,339.4 197.9,342.5 194.8,345.6 191.7,342.5" fill="#fff" stroke="#0a0a0a" stroke-width="1"/>
<polygon points="206,348 209.1,351.1 206,354.2 202.9,351.1" fill="#fff" stroke="#0a0a0a" stroke-width="1"/>
<polygon points="217.6,374.6 220.7,377.7 217.6,380.8 214.5,377.7" fill="#fff" stroke="#0a0a0a" stroke-width="1"/>
<polygon points="115.2,331.9 118.6,338.19 111.8,338.19" fill="#808080" stroke="#0a0a0a" stroke-width="1"/>
<polygon points="126.7,350.6 130.1,356.89 123.3,356.89" fill="#808080" stroke="#0a0a0a" stroke-width="1"/>
<polygon points="138.3,363.6 141.7,369.89 134.9,369.89" fill="#808080" stroke="#0a0a0a" stroke-width="1"/>
<polygon points="149.2,425.6 152.6,431.89 145.8,431.89" fill="#808080" stroke="#0a0a0a" stroke-width="1"/>
<polygon points="160.8,432.8 164.2,439.09 157.4,439.09" fill="#808080" stroke="#0a0a0a" stroke-width="1"/>
<polygon points="172.3,434.3 175.7,440.59 168.9,440.59" fill="#808080" stroke="#0a0a0a" stroke-width="1"/>
<polygon points="183.3,434.9 186.7,441.19 179.9,441.19" fill="#808080" stroke="#0a0a0a" stroke-width="1"/>
<polygon points="194.8,434.9 198.2,441.19 191.4,441.19" fill="#808080" stroke="#0a0a0a" stroke-width="1"/>
<polygon points="206,434.9 209.4,441.19 202.6,441.19" fill="#808080" stroke="#0a0a0a" stroke-width="1"/>
<polygon points="217.6,434.9 221,441.19 214.2,441.19" fill="#808080" stroke="#0a0a0a" stroke-width="1"/>
<polygon points="115.2,321.8 118.6,328.09 111.8,328.09" fill="#fff" stroke="#0a0a0a" stroke-width="1"/>
<polygon points="126.7,335.6 130.1,341.89 123.3,341.89" fill="#fff" stroke="#0a0a0a" stroke-width="1"/>
<polygon points="138.3,330.4 141.7,336.69 134.9,336.69" fill="#fff" stroke="#0a0a0a" stroke-width="1"/>
<polygon points="149.2,331.9 152.6,338.19 145.8,338.19" fill="#fff" stroke="#0a0a0a" stroke-width="1"/>
<polygon points="160.8,331 164.2,337.29 157.4,337.29" fill="#fff" stroke="#0a0a0a" stroke-width="1"/>
<polygon points="172.3,332.5 175.7,338.79 168.9,338.79" fill="#fff" stroke="#0a0a0a" stroke-width="1"/>
<polygon points="183.3,333.3 186.7,339.59 179.9,339.59" fill="#fff" stroke="#0a0a0a" stroke-width="1"/>
<polygon points="194.8,344.3 198.2,350.59 191.4,350.59" fill="#fff" stroke="#0a0a0a" stroke-width="1"/>
<polygon points="206,378 209.4,384.29 202.6,384.29" fill="#fff" stroke="#0a0a0a" stroke-width="1"/>
<polygon points="217.6,414.1 221,420.39 214.2,420.39" fill="#fff" stroke="#0a0a0a" stroke-width="1"/>
<rect x="162.2" y="270.4" width="90.2" height="40.9" fill="#fff" stroke="#333" stroke-width="0.95"/>
<line x1="165.2" y1="276.2" x2="174.4" y2="276.2" stroke="#0a0a0a" stroke-width="0.95" stroke-linecap="butt"/>
<polygon points="170,274.1 172.1,276.2 170,278.3 167.9,276.2" fill="#808080" stroke="#0a0a0a" stroke-width="0.8"/>
<text x="177.5" y="279.04" font-size="7.9" text-anchor="start" font-weight="normal" fill="#0a0a0a" stroke="#0a0a0a" stroke-width="0.4" stroke-linejoin="round">786-O, m1F6-vcAFP</text>
<line x1="165.2" y1="285.9" x2="174.4" y2="285.9" stroke="#0a0a0a" stroke-width="0.95" stroke-linecap="butt"/>
<polygon points="170,283.8 172.1,285.9 170,288 167.9,285.9" fill="#fff" stroke="#0a0a0a" stroke-width="0.8"/>
<text x="177.5" y="288.74" font-size="7.9" text-anchor="start" font-weight="normal" fill="#0a0a0a" stroke="#0a0a0a" stroke-width="0.4" stroke-linejoin="round">786-O, IgG-vcAFP</text>
<line x1="165.2" y1="296" x2="174.4" y2="296" stroke="#0a0a0a" stroke-width="0.95" stroke-linecap="butt"/>
<polygon points="170,293.5 172.2,297.57 167.8,297.57" fill="#808080" stroke="#0a0a0a" stroke-width="0.8"/>
<text x="177.5" y="298.84" font-size="7.9" text-anchor="start" font-weight="normal" fill="#0a0a0a" stroke="#0a0a0a" stroke-width="0.4" stroke-linejoin="round">Caki-1, m1F6-vcAFP</text>
<line x1="165.2" y1="305.7" x2="174.4" y2="305.7" stroke="#0a0a0a" stroke-width="0.95" stroke-linecap="butt"/>
<polygon points="170,303.2 172.2,307.27 167.8,307.27" fill="#fff" stroke="#0a0a0a" stroke-width="0.8"/>
<text x="177.5" y="308.54" font-size="7.9" text-anchor="start" font-weight="normal" fill="#0a0a0a" stroke="#0a0a0a" stroke-width="0.4" stroke-linejoin="round">Caki-1, IgG-vcAFP</text>
<text x="41.1" y="277.7" font-size="10" text-anchor="start" font-weight="bold" fill="#0a0a0a" stroke="#0a0a0a" stroke-width="0.5" stroke-linejoin="round">C</text>
<rect x="305" y="309.4" width="142.7" height="131.8" fill="#fff" stroke="#333" stroke-width="1"/>
<line x1="302.2" y1="441.2" x2="305" y2="441.2" stroke="#333" stroke-width="0.9" stroke-linecap="butt"/>
<text x="300.6" y="444.66" font-size="9.6" text-anchor="end" font-weight="normal" fill="#0a0a0a" stroke="#0a0a0a" stroke-width="0.48" stroke-linejoin="round">0</text>
<line x1="302.2" y1="414.84" x2="305" y2="414.84" stroke="#333" stroke-width="0.9" stroke-linecap="butt"/>
<text x="300.6" y="418.3" font-size="9.6" text-anchor="end" font-weight="normal" fill="#0a0a0a" stroke="#0a0a0a" stroke-width="0.48" stroke-linejoin="round">25</text>
<line x1="302.2" y1="388.48" x2="305" y2="388.48" stroke="#333" stroke-width="0.9" stroke-linecap="butt"/>
<text x="300.6" y="391.94" font-size="9.6" text-anchor="end" font-weight="normal" fill="#0a0a0a" stroke="#0a0a0a" stroke-width="0.48" stroke-linejoin="round">50</text>
<line x1="302.2" y1="362.12" x2="305" y2="362.12" stroke="#333" stroke-width="0.9" stroke-linecap="butt"/>
<text x="300.6" y="365.58" font-size="9.6" text-anchor="end" font-weight="normal" fill="#0a0a0a" stroke="#0a0a0a" stroke-width="0.48" stroke-linejoin="round">75</text>
<line x1="302.2" y1="335.76" x2="305" y2="335.76" stroke="#333" stroke-width="0.9" stroke-linecap="butt"/>
<text x="300.6" y="339.22" font-size="9.6" text-anchor="end" font-weight="normal" fill="#0a0a0a" stroke="#0a0a0a" stroke-width="0.48" stroke-linejoin="round">100</text>
<line x1="302.2" y1="309.4" x2="305" y2="309.4" stroke="#333" stroke-width="0.9" stroke-linecap="butt"/>
<text x="300.6" y="312.86" font-size="9.6" text-anchor="end" font-weight="normal" fill="#0a0a0a" stroke="#0a0a0a" stroke-width="0.48" stroke-linejoin="round">125</text>
<line x1="305" y1="441.2" x2="305" y2="443.6" stroke="#333" stroke-width="0.9" stroke-linecap="butt"/>
<text x="305" y="453.76" font-size="9.6" text-anchor="middle" font-weight="normal" fill="#0a0a0a" stroke="#0a0a0a" stroke-width="0.48" stroke-linejoin="round">0.01</text>
<line x1="352.57" y1="441.2" x2="352.57" y2="443.6" stroke="#333" stroke-width="0.9" stroke-linecap="butt"/>
<text x="352.57" y="453.76" font-size="9.6" text-anchor="middle" font-weight="normal" fill="#0a0a0a" stroke="#0a0a0a" stroke-width="0.48" stroke-linejoin="round">1</text>
<line x1="400.13" y1="441.2" x2="400.13" y2="443.6" stroke="#333" stroke-width="0.9" stroke-linecap="butt"/>
<text x="400.13" y="453.76" font-size="9.6" text-anchor="middle" font-weight="normal" fill="#0a0a0a" stroke="#0a0a0a" stroke-width="0.48" stroke-linejoin="round">100</text>
<line x1="447.7" y1="441.2" x2="447.7" y2="443.6" stroke="#333" stroke-width="0.9" stroke-linecap="butt"/>
<text x="447.7" y="453.76" font-size="9.6" text-anchor="middle" font-weight="normal" fill="#0a0a0a" stroke="#0a0a0a" stroke-width="0.48" stroke-linejoin="round">10000</text>
<text x="368.3" y="465.96" font-size="9.6" text-anchor="middle" font-weight="normal" fill="#0a0a0a" stroke="#0a0a0a" stroke-width="0.48" stroke-linejoin="round">ADC (ng/ml)</text>
<text x="275.9" y="379.76" font-size="9.6" text-anchor="middle" font-weight="normal" fill="#0a0a0a" transform="rotate(-90 275.9 376.3)" stroke="#0a0a0a" stroke-width="0.48" stroke-linejoin="round">Viability (% of Untreated)</text>
<line x1="326.2" y1="333.2" x2="326.2" y2="327.4" stroke="#0a0a0a" stroke-width="0.85" stroke-linecap="butt"/>
<line x1="324.9" y1="327.4" x2="327.5" y2="327.4" stroke="#0a0a0a" stroke-width="0.85" stroke-linecap="butt"/>
<line x1="338.3" y1="331.2" x2="338.3" y2="325.4" stroke="#0a0a0a" stroke-width="0.85" stroke-linecap="butt"/>
<line x1="337" y1="325.4" x2="339.6" y2="325.4" stroke="#0a0a0a" stroke-width="0.85" stroke-linecap="butt"/>
<line x1="350.4" y1="333.2" x2="350.4" y2="323.1" stroke="#0a0a0a" stroke-width="0.85" stroke-linecap="butt"/>
<line x1="349.1" y1="323.1" x2="351.7" y2="323.1" stroke="#0a0a0a" stroke-width="0.85" stroke-linecap="butt"/>
<line x1="361.9" y1="336.1" x2="361.9" y2="326.5" stroke="#0a0a0a" stroke-width="0.85" stroke-linecap="butt"/>
<line x1="360.6" y1="326.5" x2="363.2" y2="326.5" stroke="#0a0a0a" stroke-width="0.85" stroke-linecap="butt"/>
<line x1="373.7" y1="334" x2="373.7" y2="323.7" stroke="#0a0a0a" stroke-width="0.85" stroke-linecap="butt"/>
<line x1="372.4" y1="323.7" x2="375" y2="323.7" stroke="#0a0a0a" stroke-width="0.85" stroke-linecap="butt"/>
<line x1="385.9" y1="343.3" x2="385.9" y2="318.7" stroke="#0a0a0a" stroke-width="0.85" stroke-linecap="butt"/>
<line x1="384.6" y1="318.7" x2="387.2" y2="318.7" stroke="#0a0a0a" stroke-width="0.85" stroke-linecap="butt"/>
<line x1="397.4" y1="333.2" x2="397.4" y2="322.5" stroke="#0a0a0a" stroke-width="0.85" stroke-linecap="butt"/>
<line x1="396.1" y1="322.5" x2="398.7" y2="322.5" stroke="#0a0a0a" stroke-width="0.85" stroke-linecap="butt"/>
<line x1="409.8" y1="330.3" x2="409.8" y2="326.5" stroke="#0a0a0a" stroke-width="0.85" stroke-linecap="butt"/>
<line x1="408.5" y1="326.5" x2="411.1" y2="326.5" stroke="#0a0a0a" stroke-width="0.85" stroke-linecap="butt"/>
<line x1="421.3" y1="332.3" x2="421.3" y2="325.4" stroke="#0a0a0a" stroke-width="0.85" stroke-linecap="butt"/>
<line x1="420" y1="325.4" x2="422.6" y2="325.4" stroke="#0a0a0a" stroke-width="0.85" stroke-linecap="butt"/>
<line x1="433.4" y1="337.5" x2="433.4" y2="324.5" stroke="#0a0a0a" stroke-width="0.85" stroke-linecap="butt"/>
<line x1="432.1" y1="324.5" x2="434.7" y2="324.5" stroke="#0a0a0a" stroke-width="0.85" stroke-linecap="butt"/>
<line x1="350.4" y1="392.3" x2="350.4" y2="381.6" stroke="#0a0a0a" stroke-width="0.85" stroke-linecap="butt"/>
<line x1="349.1" y1="381.6" x2="351.7" y2="381.6" stroke="#0a0a0a" stroke-width="0.85" stroke-linecap="butt"/>
<line x1="361.9" y1="377.9" x2="361.9" y2="364.9" stroke="#0a0a0a" stroke-width="0.85" stroke-linecap="butt"/>
<line x1="360.6" y1="364.9" x2="363.2" y2="364.9" stroke="#0a0a0a" stroke-width="0.85" stroke-linecap="butt"/>
<line x1="373.7" y1="392.9" x2="373.7" y2="383.6" stroke="#0a0a0a" stroke-width="0.85" stroke-linecap="butt"/>
<line x1="372.4" y1="383.6" x2="375" y2="383.6" stroke="#0a0a0a" stroke-width="0.85" stroke-linecap="butt"/>
<line x1="385.9" y1="404.7" x2="385.9" y2="395.2" stroke="#0a0a0a" stroke-width="0.85" stroke-linecap="butt"/>
<line x1="384.6" y1="395.2" x2="387.2" y2="395.2" stroke="#0a0a0a" stroke-width="0.85" stroke-linecap="butt"/>
<line x1="397.4" y1="406.1" x2="397.4" y2="395.2" stroke="#0a0a0a" stroke-width="0.85" stroke-linecap="butt"/>
<line x1="396.1" y1="395.2" x2="398.7" y2="395.2" stroke="#0a0a0a" stroke-width="0.85" stroke-linecap="butt"/>
<line x1="409.8" y1="406.1" x2="409.8" y2="402.4" stroke="#0a0a0a" stroke-width="0.85" stroke-linecap="butt"/>
<line x1="408.5" y1="402.4" x2="411.1" y2="402.4" stroke="#0a0a0a" stroke-width="0.85" stroke-linecap="butt"/>
<line x1="421.3" y1="404.4" x2="421.3" y2="401" stroke="#0a0a0a" stroke-width="0.85" stroke-linecap="butt"/>
<line x1="420" y1="401" x2="422.6" y2="401" stroke="#0a0a0a" stroke-width="0.85" stroke-linecap="butt"/>
<line x1="433.4" y1="361.4" x2="433.4" y2="353.4" stroke="#0a0a0a" stroke-width="0.85" stroke-linecap="butt"/>
<line x1="432.1" y1="353.4" x2="434.7" y2="353.4" stroke="#0a0a0a" stroke-width="0.85" stroke-linecap="butt"/>
<line x1="338.3" y1="351.9" x2="338.3" y2="347" stroke="#0a0a0a" stroke-width="0.85" stroke-linecap="butt"/>
<line x1="337" y1="347" x2="339.6" y2="347" stroke="#0a0a0a" stroke-width="0.85" stroke-linecap="butt"/>
<polyline points="326.2,344.7 338.3,351.9 350.4,392.3 361.9,416.8 373.7,422.6 385.9,424 397.4,422.6 409.8,424.6 421.3,424.6 433.4,425.5" fill="none" stroke="#0a0a0a" stroke-width="1.05" stroke-linejoin="round"/>
<polyline points="326.2,335.2 338.3,335.2 350.4,345.3 361.9,340.4 373.7,335.2 385.9,341.8 397.4,335.2 409.8,338.1 421.3,341 433.4,361.4" fill="none" stroke="#0a0a0a" stroke-width="1.05" stroke-linejoin="round"/>
<polyline points="326.2,343.3 338.3,344.7 350.4,355.7 361.9,377.9 373.7,392.9 385.9,404.7 397.4,406.1 409.8,406.1 421.3,404.4 433.4,408.7" fill="none" stroke="#0a0a0a" stroke-width="1.05" stroke-linejoin="round"/>
<polyline points="326.2,333.2 338.3,331.2 350.4,333.2 361.9,336.1 373.7,334 385.9,343.3 397.4,333.2 409.8,330.3 421.3,332.3 433.4,337.5" fill="none" stroke="#0a0a0a" stroke-width="1.05" stroke-linejoin="round"/>
<polygon points="326.2,341.6 329.3,344.7 326.2,347.8 323.1,344.7" fill="#808080" stroke="#0a0a0a" stroke-width="1"/>
<polygon points="338.3,348.8 341.4,351.9 338.3,355 335.2,351.9" fill="#808080" stroke="#0a0a0a" stroke-width="1"/>
<polygon points="350.4,389.2 353.5,392.3 350.4,395.4 347.3,392.3" fill="#808080" stroke="#0a0a0a" stroke-width="1"/>
<polygon points="361.9,413.7 365,416.8 361.9,419.9 358.8,416.8" fill="#808080" stroke="#0a0a0a" stroke-width="1"/>
<polygon points="373.7,419.5 376.8,422.6 373.7,425.7 370.6,422.6" fill="#808080" stroke="#0a0a0a" stroke-width="1"/>
<polygon points="385.9,420.9 389,424 385.9,427.1 382.8,424" fill="#808080" stroke="#0a0a0a" stroke-width="1"/>
<polygon points="397.4,419.5 400.5,422.6 397.4,425.7 394.3,422.6" fill="#808080" stroke="#0a0a0a" stroke-width="1"/>
<polygon points="409.8,421.5 412.9,424.6 409.8,427.7 406.7,424.6" fill="#808080" stroke="#0a0a0a" stroke-width="1"/>
<polygon points="421.3,421.5 424.4,424.6 421.3,427.7 418.2,424.6" fill="#808080" stroke="#0a0a0a" stroke-width="1"/>
<polygon points="433.4,422.4 436.5,425.5 433.4,428.6 430.3,425.5" fill="#808080" stroke="#0a0a0a" stroke-width="1"/>
<polygon points="326.2,332.1 329.3,335.2 326.2,338.3 323.1,335.2" fill="#fff" stroke="#0a0a0a" stroke-width="1"/>
<polygon points="338.3,332.1 341.4,335.2 338.3,338.3 335.2,335.2" fill="#fff" stroke="#0a0a0a" stroke-width="1"/>
<polygon points="350.4,342.2 353.5,345.3 350.4,348.4 347.3,345.3" fill="#fff" stroke="#0a0a0a" stroke-width="1"/>
<polygon points="361.9,337.3 365,340.4 361.9,343.5 358.8,340.4" fill="#fff" stroke="#0a0a0a" stroke-width="1"/>
<polygon points="373.7,332.1 376.8,335.2 373.7,338.3 370.6,335.2" fill="#fff" stroke="#0a0a0a" stroke-width="1"/>
<polygon points="385.9,338.7 389,341.8 385.9,344.9 382.8,341.8" fill="#fff" stroke="#0a0a0a" stroke-width="1"/>
<polygon points="397.4,332.1 400.5,335.2 397.4,338.3 394.3,335.2" fill="#fff" stroke="#0a0a0a" stroke-width="1"/>
<polygon points="409.8,335 412.9,338.1 409.8,341.2 406.7,338.1" fill="#fff" stroke="#0a0a0a" stroke-width="1"/>
<polygon points="421.3,337.9 424.4,341 421.3,344.1 418.2,341" fill="#fff" stroke="#0a0a0a" stroke-width="1"/>
<polygon points="433.4,358.3 436.5,361.4 433.4,364.5 430.3,361.4" fill="#fff" stroke="#0a0a0a" stroke-width="1"/>
<polygon points="326.2,339.9 329.6,346.19 322.8,346.19" fill="#808080" stroke="#0a0a0a" stroke-width="1"/>
<polygon points="338.3,341.3 341.7,347.59 334.9,347.59" fill="#808080" stroke="#0a0a0a" stroke-width="1"/>
<polygon points="350.4,352.3 353.8,358.59 347,358.59" fill="#808080" stroke="#0a0a0a" stroke-width="1"/>
<polygon points="361.9,374.5 365.3,380.79 358.5,380.79" fill="#808080" stroke="#0a0a0a" stroke-width="1"/>
<polygon points="373.7,389.5 377.1,395.79 370.3,395.79" fill="#808080" stroke="#0a0a0a" stroke-width="1"/>
<polygon points="385.9,401.3 389.3,407.59 382.5,407.59" fill="#808080" stroke="#0a0a0a" stroke-width="1"/>
<polygon points="397.4,402.7 400.8,408.99 394,408.99" fill="#808080" stroke="#0a0a0a" stroke-width="1"/>
<polygon points="409.8,402.7 413.2,408.99 406.4,408.99" fill="#808080" stroke="#0a0a0a" stroke-width="1"/>
<polygon points="421.3,401 424.7,407.29 417.9,407.29" fill="#808080" stroke="#0a0a0a" stroke-width="1"/>
<polygon points="433.4,405.3 436.8,411.59 430,411.59" fill="#808080" stroke="#0a0a0a" stroke-width="1"/>
<polygon points="326.2,329.8 329.6,336.09 322.8,336.09" fill="#fff" stroke="#0a0a0a" stroke-width="1"/>
<polygon points="338.3,327.8 341.7,334.09 334.9,334.09" fill="#fff" stroke="#0a0a0a" stroke-width="1"/>
<polygon points="350.4,329.8 353.8,336.09 347,336.09" fill="#fff" stroke="#0a0a0a" stroke-width="1"/>
<polygon points="361.9,332.7 365.3,338.99 358.5,338.99" fill="#fff" stroke="#0a0a0a" stroke-width="1"/>
<polygon points="373.7,330.6 377.1,336.89 370.3,336.89" fill="#fff" stroke="#0a0a0a" stroke-width="1"/>
<polygon points="385.9,339.9 389.3,346.19 382.5,346.19" fill="#fff" stroke="#0a0a0a" stroke-width="1"/>
<polygon points="397.4,329.8 400.8,336.09 394,336.09" fill="#fff" stroke="#0a0a0a" stroke-width="1"/>
<polygon points="409.8,326.9 413.2,333.19 406.4,333.19" fill="#fff" stroke="#0a0a0a" stroke-width="1"/>
<polygon points="421.3,328.9 424.7,335.19 417.9,335.19" fill="#fff" stroke="#0a0a0a" stroke-width="1"/>
<polygon points="433.4,334.1 436.8,340.39 430,340.39" fill="#fff" stroke="#0a0a0a" stroke-width="1"/>
<rect x="386.2" y="270.4" width="89.4" height="41.1" fill="#fff" stroke="#333" stroke-width="0.95"/>
<line x1="388.2" y1="276.2" x2="397.4" y2="276.2" stroke="#0a0a0a" stroke-width="0.95" stroke-linecap="butt"/>
<polygon points="393,274.1 395.1,276.2 393,278.3 390.9,276.2" fill="#808080" stroke="#0a0a0a" stroke-width="0.8"/>
<text x="401.2" y="279.04" font-size="7.9" text-anchor="start" font-weight="normal" fill="#0a0a0a" stroke="#0a0a0a" stroke-width="0.4" stroke-linejoin="round">786-O, m1F6-vcAFP</text>
<line x1="388.2" y1="285.9" x2="397.4" y2="285.9" stroke="#0a0a0a" stroke-width="0.95" stroke-linecap="butt"/>
<polygon points="393,283.8 395.1,285.9 393,288 390.9,285.9" fill="#fff" stroke="#0a0a0a" stroke-width="0.8"/>
<text x="401.2" y="288.74" font-size="7.9" text-anchor="start" font-weight="normal" fill="#0a0a0a" stroke="#0a0a0a" stroke-width="0.4" stroke-linejoin="round">786-O, IgG-vcAFP</text>
<line x1="388.2" y1="296" x2="397.4" y2="296" stroke="#0a0a0a" stroke-width="0.95" stroke-linecap="butt"/>
<polygon points="393,293.5 395.2,297.57 390.8,297.57" fill="#808080" stroke="#0a0a0a" stroke-width="0.8"/>
<text x="401.2" y="298.84" font-size="7.9" text-anchor="start" font-weight="normal" fill="#0a0a0a" stroke="#0a0a0a" stroke-width="0.4" stroke-linejoin="round">Caki-1, m1F6-vcAFP</text>
<line x1="388.2" y1="305.7" x2="397.4" y2="305.7" stroke="#0a0a0a" stroke-width="0.95" stroke-linecap="butt"/>
<polygon points="393,303.2 395.2,307.27 390.8,307.27" fill="#fff" stroke="#0a0a0a" stroke-width="0.8"/>
<text x="401.2" y="308.54" font-size="7.9" text-anchor="start" font-weight="normal" fill="#0a0a0a" stroke="#0a0a0a" stroke-width="0.4" stroke-linejoin="round">Caki-1, IgG-vcAFP</text>
<text x="270.2" y="277.6" font-size="10" text-anchor="start" font-weight="bold" fill="#0a0a0a" stroke="#0a0a0a" stroke-width="0.5" stroke-linejoin="round">D</text>
<rect x="77.8" y="493.1" width="132.7" height="131.5" fill="#fff" stroke="#333" stroke-width="1"/>
<line x1="75" y1="624.6" x2="77.8" y2="624.6" stroke="#333" stroke-width="0.9" stroke-linecap="butt"/>
<text x="73.1" y="628.06" font-size="9.6" text-anchor="end" font-weight="normal" fill="#0a0a0a" stroke="#0a0a0a" stroke-width="0.48" stroke-linejoin="round">0</text>
<line x1="75" y1="608.16" x2="77.8" y2="608.16" stroke="#333" stroke-width="0.9" stroke-linecap="butt"/>
<text x="73.1" y="611.62" font-size="9.6" text-anchor="end" font-weight="normal" fill="#0a0a0a" stroke="#0a0a0a" stroke-width="0.48" stroke-linejoin="round">20</text>
<line x1="75" y1="591.73" x2="77.8" y2="591.73" stroke="#333" stroke-width="0.9" stroke-linecap="butt"/>
<text x="73.1" y="595.18" font-size="9.6" text-anchor="end" font-weight="normal" fill="#0a0a0a" stroke="#0a0a0a" stroke-width="0.48" stroke-linejoin="round">40</text>
<line x1="75" y1="575.29" x2="77.8" y2="575.29" stroke="#333" stroke-width="0.9" stroke-linecap="butt"/>
<text x="73.1" y="578.74" font-size="9.6" text-anchor="end" font-weight="normal" fill="#0a0a0a" stroke="#0a0a0a" stroke-width="0.48" stroke-linejoin="round">60</text>
<line x1="75" y1="558.85" x2="77.8" y2="558.85" stroke="#333" stroke-width="0.9" stroke-linecap="butt"/>
<text x="73.1" y="562.31" font-size="9.6" text-anchor="end" font-weight="normal" fill="#0a0a0a" stroke="#0a0a0a" stroke-width="0.48" stroke-linejoin="round">80</text>
<line x1="75" y1="542.41" x2="77.8" y2="542.41" stroke="#333" stroke-width="0.9" stroke-linecap="butt"/>
<text x="73.1" y="545.87" font-size="9.6" text-anchor="end" font-weight="normal" fill="#0a0a0a" stroke="#0a0a0a" stroke-width="0.48" stroke-linejoin="round">100</text>
<line x1="75" y1="525.98" x2="77.8" y2="525.98" stroke="#333" stroke-width="0.9" stroke-linecap="butt"/>
<text x="73.1" y="529.43" font-size="9.6" text-anchor="end" font-weight="normal" fill="#0a0a0a" stroke="#0a0a0a" stroke-width="0.48" stroke-linejoin="round">120</text>
<line x1="75" y1="509.54" x2="77.8" y2="509.54" stroke="#333" stroke-width="0.9" stroke-linecap="butt"/>
<text x="73.1" y="512.99" font-size="9.6" text-anchor="end" font-weight="normal" fill="#0a0a0a" stroke="#0a0a0a" stroke-width="0.48" stroke-linejoin="round">140</text>
<line x1="75" y1="493.1" x2="77.8" y2="493.1" stroke="#333" stroke-width="0.9" stroke-linecap="butt"/>
<text x="73.1" y="496.56" font-size="9.6" text-anchor="end" font-weight="normal" fill="#0a0a0a" stroke="#0a0a0a" stroke-width="0.48" stroke-linejoin="round">160</text>
<line x1="77.8" y1="624.6" x2="77.8" y2="627" stroke="#333" stroke-width="0.9" stroke-linecap="butt"/>
<text x="77.8" y="639.56" font-size="9.6" text-anchor="middle" font-weight="normal" fill="#0a0a0a" stroke="#0a0a0a" stroke-width="0.48" stroke-linejoin="round">0.0001</text>
<line x1="110.97" y1="624.6" x2="110.97" y2="627" stroke="#333" stroke-width="0.9" stroke-linecap="butt"/>
<text x="110.97" y="639.56" font-size="9.6" text-anchor="middle" font-weight="normal" fill="#0a0a0a" stroke="#0a0a0a" stroke-width="0.48" stroke-linejoin="round">0.01</text>
<line x1="144.15" y1="624.6" x2="144.15" y2="627" stroke="#333" stroke-width="0.9" stroke-linecap="butt"/>
<text x="144.15" y="639.56" font-size="9.6" text-anchor="middle" font-weight="normal" fill="#0a0a0a" stroke="#0a0a0a" stroke-width="0.48" stroke-linejoin="round">1</text>
<line x1="177.32" y1="624.6" x2="177.32" y2="627" stroke="#333" stroke-width="0.9" stroke-linecap="butt"/>
<text x="177.32" y="639.56" font-size="9.6" text-anchor="middle" font-weight="normal" fill="#0a0a0a" stroke="#0a0a0a" stroke-width="0.48" stroke-linejoin="round">100</text>
<line x1="210.5" y1="624.6" x2="210.5" y2="627" stroke="#333" stroke-width="0.9" stroke-linecap="butt"/>
<text x="210.5" y="639.56" font-size="9.6" text-anchor="middle" font-weight="normal" fill="#0a0a0a" stroke="#0a0a0a" stroke-width="0.48" stroke-linejoin="round">10000</text>
<text x="143" y="652.06" font-size="9.6" text-anchor="middle" font-weight="normal" fill="#0a0a0a" stroke="#0a0a0a" stroke-width="0.48" stroke-linejoin="round">ADC (ng/ml)</text>
<text x="47.1" y="562.31" font-size="9.6" text-anchor="middle" font-weight="normal" fill="#0a0a0a" transform="rotate(-90 47.1 558.85)" stroke="#0a0a0a" stroke-width="0.48" stroke-linejoin="round">Viability (% of Untreated)</text>
<line x1="89.3" y1="535.5" x2="89.3" y2="516.2" stroke="#0a0a0a" stroke-width="0.85" stroke-linecap="butt"/>
<line x1="88" y1="516.2" x2="90.6" y2="516.2" stroke="#0a0a0a" stroke-width="0.85" stroke-linecap="butt"/>
<line x1="101.2" y1="532.6" x2="101.2" y2="512.4" stroke="#0a0a0a" stroke-width="0.85" stroke-linecap="butt"/>
<line x1="99.9" y1="512.4" x2="102.5" y2="512.4" stroke="#0a0a0a" stroke-width="0.85" stroke-linecap="butt"/>
<line x1="112.7" y1="524.8" x2="112.7" y2="502.9" stroke="#0a0a0a" stroke-width="0.85" stroke-linecap="butt"/>
<line x1="111.4" y1="502.9" x2="114" y2="502.9" stroke="#0a0a0a" stroke-width="0.85" stroke-linecap="butt"/>
<line x1="124.2" y1="536.3" x2="124.2" y2="506.6" stroke="#0a0a0a" stroke-width="0.85" stroke-linecap="butt"/>
<line x1="122.9" y1="506.6" x2="125.5" y2="506.6" stroke="#0a0a0a" stroke-width="0.85" stroke-linecap="butt"/>
<line x1="135.8" y1="527.7" x2="135.8" y2="504.6" stroke="#0a0a0a" stroke-width="0.85" stroke-linecap="butt"/>
<line x1="134.5" y1="504.6" x2="137.1" y2="504.6" stroke="#0a0a0a" stroke-width="0.85" stroke-linecap="butt"/>
<line x1="147.3" y1="529.7" x2="147.3" y2="508.1" stroke="#0a0a0a" stroke-width="0.85" stroke-linecap="butt"/>
<line x1="146" y1="508.1" x2="148.6" y2="508.1" stroke="#0a0a0a" stroke-width="0.85" stroke-linecap="butt"/>
<line x1="158.8" y1="522.5" x2="158.8" y2="500.9" stroke="#0a0a0a" stroke-width="0.85" stroke-linecap="butt"/>
<line x1="157.5" y1="500.9" x2="160.1" y2="500.9" stroke="#0a0a0a" stroke-width="0.85" stroke-linecap="butt"/>
<line x1="170.4" y1="530.6" x2="170.4" y2="513.3" stroke="#0a0a0a" stroke-width="0.85" stroke-linecap="butt"/>
<line x1="169.1" y1="513.3" x2="171.7" y2="513.3" stroke="#0a0a0a" stroke-width="0.85" stroke-linecap="butt"/>
<line x1="182.5" y1="547" x2="182.5" y2="535.5" stroke="#0a0a0a" stroke-width="0.85" stroke-linecap="butt"/>
<line x1="181.2" y1="535.5" x2="183.8" y2="535.5" stroke="#0a0a0a" stroke-width="0.85" stroke-linecap="butt"/>
<line x1="194" y1="567.2" x2="194" y2="563.5" stroke="#0a0a0a" stroke-width="0.85" stroke-linecap="butt"/>
<line x1="192.7" y1="563.5" x2="195.3" y2="563.5" stroke="#0a0a0a" stroke-width="0.85" stroke-linecap="butt"/>
<line x1="158.8" y1="584.5" x2="158.8" y2="573" stroke="#0a0a0a" stroke-width="0.85" stroke-linecap="butt"/>
<line x1="157.5" y1="573" x2="160.1" y2="573" stroke="#0a0a0a" stroke-width="0.85" stroke-linecap="butt"/>
<line x1="170.4" y1="598.4" x2="170.4" y2="590.3" stroke="#0a0a0a" stroke-width="0.85" stroke-linecap="butt"/>
<line x1="169.1" y1="590.3" x2="171.7" y2="590.3" stroke="#0a0a0a" stroke-width="0.85" stroke-linecap="butt"/>
<line x1="182.5" y1="600.4" x2="182.5" y2="594" stroke="#0a0a0a" stroke-width="0.85" stroke-linecap="butt"/>
<line x1="181.2" y1="594" x2="183.8" y2="594" stroke="#0a0a0a" stroke-width="0.85" stroke-linecap="butt"/>
<line x1="89.3" y1="535.5" x2="89.3" y2="521" stroke="#0a0a0a" stroke-width="0.85" stroke-linecap="butt"/>
<line x1="88" y1="521" x2="90.6" y2="521" stroke="#0a0a0a" stroke-width="0.85" stroke-linecap="butt"/>
<line x1="101.2" y1="526.2" x2="101.2" y2="516" stroke="#0a0a0a" stroke-width="0.85" stroke-linecap="butt"/>
<line x1="99.9" y1="516" x2="102.5" y2="516" stroke="#0a0a0a" stroke-width="0.85" stroke-linecap="butt"/>
<line x1="124.2" y1="540.7" x2="124.2" y2="533" stroke="#0a0a0a" stroke-width="0.85" stroke-linecap="butt"/>
<line x1="122.9" y1="533" x2="125.5" y2="533" stroke="#0a0a0a" stroke-width="0.85" stroke-linecap="butt"/>
<line x1="112.7" y1="538.9" x2="112.7" y2="533" stroke="#0a0a0a" stroke-width="0.85" stroke-linecap="butt"/>
<line x1="111.4" y1="533" x2="114" y2="533" stroke="#0a0a0a" stroke-width="0.85" stroke-linecap="butt"/>
<polyline points="89.3,542.7 101.2,539.2 112.7,538.9 124.2,540.7 135.8,538.4 147.3,549.9 158.8,605.6 170.4,614.8 182.5,616.8 194,617.1" fill="none" stroke="#0a0a0a" stroke-width="1.05" stroke-linejoin="round"/>
<polyline points="89.3,535.5 101.2,526.2 112.7,522.5 124.2,520.2 135.8,519.6 147.3,549 158.8,584.5 170.4,598.4 182.5,600.4 194,602.7" fill="none" stroke="#0a0a0a" stroke-width="1.05" stroke-linejoin="round"/>
<polyline points="89.3,535.5 101.2,532.6 112.7,524.8 124.2,536.3 135.8,527.7 147.3,529.7 158.8,522.5 170.4,530.6 182.5,547 194,567.2" fill="none" stroke="#0a0a0a" stroke-width="1.05" stroke-linejoin="round"/>
<polygon points="89.3,539.6 92.4,542.7 89.3,545.8 86.2,542.7" fill="#8c8c8c" stroke="#0a0a0a" stroke-width="1"/>
<polygon points="101.2,536.1 104.3,539.2 101.2,542.3 98.1,539.2" fill="#8c8c8c" stroke="#0a0a0a" stroke-width="1"/>
<polygon points="112.7,535.8 115.8,538.9 112.7,542 109.6,538.9" fill="#8c8c8c" stroke="#0a0a0a" stroke-width="1"/>
<polygon points="124.2,537.6 127.3,540.7 124.2,543.8 121.1,540.7" fill="#8c8c8c" stroke="#0a0a0a" stroke-width="1"/>
<polygon points="135.8,535.3 138.9,538.4 135.8,541.5 132.7,538.4" fill="#8c8c8c" stroke="#0a0a0a" stroke-width="1"/>
<polygon points="147.3,546.8 150.4,549.9 147.3,553 144.2,549.9" fill="#8c8c8c" stroke="#0a0a0a" stroke-width="1"/>
<polygon points="158.8,602.5 161.9,605.6 158.8,608.7 155.7,605.6" fill="#8c8c8c" stroke="#0a0a0a" stroke-width="1"/>
<polygon points="170.4,611.7 173.5,614.8 170.4,617.9 167.3,614.8" fill="#8c8c8c" stroke="#0a0a0a" stroke-width="1"/>
<polygon points="182.5,613.7 185.6,616.8 182.5,619.9 179.4,616.8" fill="#8c8c8c" stroke="#0a0a0a" stroke-width="1"/>
<polygon points="194,614 197.1,617.1 194,620.2 190.9,617.1" fill="#8c8c8c" stroke="#0a0a0a" stroke-width="1"/>
<rect x="86.2" y="532.4" width="6.2" height="6.2" fill="#8a8a8a" stroke="#0a0a0a" stroke-width="1"/>
<rect x="98.1" y="523.1" width="6.2" height="6.2" fill="#8a8a8a" stroke="#0a0a0a" stroke-width="1"/>
<rect x="109.6" y="519.4" width="6.2" height="6.2" fill="#8a8a8a" stroke="#0a0a0a" stroke-width="1"/>
<rect x="121.1" y="517.1" width="6.2" height="6.2" fill="#8a8a8a" stroke="#0a0a0a" stroke-width="1"/>
<rect x="132.7" y="516.5" width="6.2" height="6.2" fill="#8a8a8a" stroke="#0a0a0a" stroke-width="1"/>
<rect x="144.2" y="545.9" width="6.2" height="6.2" fill="#8a8a8a" stroke="#0a0a0a" stroke-width="1"/>
<rect x="155.7" y="581.4" width="6.2" height="6.2" fill="#8a8a8a" stroke="#0a0a0a" stroke-width="1"/>
<rect x="167.3" y="595.3" width="6.2" height="6.2" fill="#8a8a8a" stroke="#0a0a0a" stroke-width="1"/>
<rect x="179.4" y="597.3" width="6.2" height="6.2" fill="#8a8a8a" stroke="#0a0a0a" stroke-width="1"/>
<rect x="190.9" y="599.6" width="6.2" height="6.2" fill="#8a8a8a" stroke="#0a0a0a" stroke-width="1"/>
<polygon points="89.3,532.1 92.7,538.39 85.9,538.39" fill="#999" stroke="#0a0a0a" stroke-width="1"/>
<polygon points="101.2,529.2 104.6,535.49 97.8,535.49" fill="#999" stroke="#0a0a0a" stroke-width="1"/>
<polygon points="112.7,521.4 116.1,527.69 109.3,527.69" fill="#999" stroke="#0a0a0a" stroke-width="1"/>
<polygon points="124.2,532.9 127.6,539.19 120.8,539.19" fill="#999" stroke="#0a0a0a" stroke-width="1"/>
<polygon points="135.8,524.3 139.2,530.59 132.4,530.59" fill="#999" stroke="#0a0a0a" stroke-width="1"/>
<polygon points="147.3,526.3 150.7,532.59 143.9,532.59" fill="#999" stroke="#0a0a0a" stroke-width="1"/>
<polygon points="158.8,519.1 162.2,525.39 155.4,525.39" fill="#999" stroke="#0a0a0a" stroke-width="1"/>
<polygon points="170.4,527.2 173.8,533.49 167,533.49" fill="#999" stroke="#0a0a0a" stroke-width="1"/>
<polygon points="182.5,543.6 185.9,549.89 179.1,549.89" fill="#999" stroke="#0a0a0a" stroke-width="1"/>
<polygon points="194,563.8 197.4,570.09 190.6,570.09" fill="#999" stroke="#0a0a0a" stroke-width="1"/>
<rect x="176.2" y="487.5" width="108.7" height="36.3" fill="#fff" stroke="#333" stroke-width="0.95"/>
<line x1="180.7" y1="495.9" x2="189.9" y2="495.9" stroke="#0a0a0a" stroke-width="0.95" stroke-linecap="butt"/>
<polygon points="185.5,493.8 187.6,495.9 185.5,498 183.4,495.9" fill="#8c8c8c" stroke="#0a0a0a" stroke-width="0.8"/>
<text x="192" y="498.74" font-size="7.9" text-anchor="start" font-weight="normal" fill="#0a0a0a" stroke="#0a0a0a" stroke-width="0.4" stroke-linejoin="round">786-O, c1F6-vcMMAF4</text>
<line x1="180.7" y1="507.2" x2="189.9" y2="507.2" stroke="#0a0a0a" stroke-width="0.95" stroke-linecap="butt"/>
<rect x="183.1" y="504.8" width="4.8" height="4.8" fill="#8a8a8a" stroke="#0a0a0a" stroke-width="0.8"/>
<text x="192" y="510.04" font-size="7.9" text-anchor="start" font-weight="normal" fill="#0a0a0a" stroke="#0a0a0a" stroke-width="0.4" stroke-linejoin="round">Caki-1, c1F6-vcMMAF4</text>
<line x1="180.7" y1="518.4" x2="189.9" y2="518.4" stroke="#0a0a0a" stroke-width="0.95" stroke-linecap="butt"/>
<polygon points="185.5,515.9 187.7,519.97 183.3,519.97" fill="#999" stroke="#0a0a0a" stroke-width="0.8"/>
<text x="192" y="521.24" font-size="7.9" text-anchor="start" font-weight="normal" fill="#0a0a0a" stroke="#0a0a0a" stroke-width="0.4" stroke-linejoin="round">Hs835.T, c1F6-vcMMAF4</text>
<text x="40.3" y="486.8" font-size="10" text-anchor="start" font-weight="bold" fill="#0a0a0a" stroke="#0a0a0a" stroke-width="0.5" stroke-linejoin="round">E</text>
<rect x="333.8" y="492.7" width="129.1" height="141.7" fill="#fff" stroke="#333" stroke-width="1"/>
<line x1="331" y1="634.4" x2="333.8" y2="634.4" stroke="#333" stroke-width="0.9" stroke-linecap="butt"/>
<text x="328.1" y="637.86" font-size="9.6" text-anchor="end" font-weight="normal" fill="#0a0a0a" stroke="#0a0a0a" stroke-width="0.48" stroke-linejoin="round">0</text>
<line x1="331" y1="610.78" x2="333.8" y2="610.78" stroke="#333" stroke-width="0.9" stroke-linecap="butt"/>
<text x="328.1" y="614.24" font-size="9.6" text-anchor="end" font-weight="normal" fill="#0a0a0a" stroke="#0a0a0a" stroke-width="0.48" stroke-linejoin="round">20</text>
<line x1="331" y1="587.17" x2="333.8" y2="587.17" stroke="#333" stroke-width="0.9" stroke-linecap="butt"/>
<text x="328.1" y="590.62" font-size="9.6" text-anchor="end" font-weight="normal" fill="#0a0a0a" stroke="#0a0a0a" stroke-width="0.48" stroke-linejoin="round">40</text>
<line x1="331" y1="563.55" x2="333.8" y2="563.55" stroke="#333" stroke-width="0.9" stroke-linecap="butt"/>
<text x="328.1" y="567.01" font-size="9.6" text-anchor="end" font-weight="normal" fill="#0a0a0a" stroke="#0a0a0a" stroke-width="0.48" stroke-linejoin="round">60</text>
<line x1="331" y1="539.93" x2="333.8" y2="539.93" stroke="#333" stroke-width="0.9" stroke-linecap="butt"/>
<text x="328.1" y="543.39" font-size="9.6" text-anchor="end" font-weight="normal" fill="#0a0a0a" stroke="#0a0a0a" stroke-width="0.48" stroke-linejoin="round">80</text>
<line x1="331" y1="516.32" x2="333.8" y2="516.32" stroke="#333" stroke-width="0.9" stroke-linecap="butt"/>
<text x="328.1" y="519.77" font-size="9.6" text-anchor="end" font-weight="normal" fill="#0a0a0a" stroke="#0a0a0a" stroke-width="0.48" stroke-linejoin="round">100</text>
<line x1="331" y1="492.7" x2="333.8" y2="492.7" stroke="#333" stroke-width="0.9" stroke-linecap="butt"/>
<text x="328.1" y="496.16" font-size="9.6" text-anchor="end" font-weight="normal" fill="#0a0a0a" stroke="#0a0a0a" stroke-width="0.48" stroke-linejoin="round">120</text>
<line x1="333.8" y1="634.4" x2="333.8" y2="636.8" stroke="#333" stroke-width="0.9" stroke-linecap="butt"/>
<text x="333.8" y="648.66" font-size="9.6" text-anchor="middle" font-weight="normal" fill="#0a0a0a" stroke="#0a0a0a" stroke-width="0.48" stroke-linejoin="round">10</text>
<line x1="366.07" y1="634.4" x2="366.07" y2="636.8" stroke="#333" stroke-width="0.9" stroke-linecap="butt"/>
<text x="366.07" y="648.66" font-size="9.6" text-anchor="middle" font-weight="normal" fill="#0a0a0a" stroke="#0a0a0a" stroke-width="0.48" stroke-linejoin="round">100</text>
<line x1="398.35" y1="634.4" x2="398.35" y2="636.8" stroke="#333" stroke-width="0.9" stroke-linecap="butt"/>
<text x="398.35" y="648.66" font-size="9.6" text-anchor="middle" font-weight="normal" fill="#0a0a0a" stroke="#0a0a0a" stroke-width="0.48" stroke-linejoin="round">1000</text>
<line x1="430.62" y1="634.4" x2="430.62" y2="636.8" stroke="#333" stroke-width="0.9" stroke-linecap="butt"/>
<text x="430.62" y="648.66" font-size="9.6" text-anchor="middle" font-weight="normal" fill="#0a0a0a" stroke="#0a0a0a" stroke-width="0.48" stroke-linejoin="round">10000</text>
<line x1="462.9" y1="634.4" x2="462.9" y2="636.8" stroke="#333" stroke-width="0.9" stroke-linecap="butt"/>
<text x="462.9" y="648.66" font-size="9.6" text-anchor="middle" font-weight="normal" fill="#0a0a0a" stroke="#0a0a0a" stroke-width="0.48" stroke-linejoin="round">100000</text>
<text x="397.7" y="660.66" font-size="9.6" text-anchor="middle" font-weight="normal" fill="#0a0a0a" stroke="#0a0a0a" stroke-width="0.48" stroke-linejoin="round">ADC (ng/ml)</text>
<text x="302.6" y="567.01" font-size="9.6" text-anchor="middle" font-weight="normal" fill="#0a0a0a" transform="rotate(-90 302.6 563.55)" stroke="#0a0a0a" stroke-width="0.48" stroke-linejoin="round">Viability (% of Untreated)</text>
<line x1="343.7" y1="515.3" x2="343.7" y2="507.5" stroke="#0a0a0a" stroke-width="0.85" stroke-linecap="butt"/>
<line x1="342.4" y1="507.5" x2="345" y2="507.5" stroke="#0a0a0a" stroke-width="0.85" stroke-linecap="butt"/>
<line x1="353" y1="519" x2="353" y2="513.8" stroke="#0a0a0a" stroke-width="0.85" stroke-linecap="butt"/>
<line x1="351.7" y1="513.8" x2="354.3" y2="513.8" stroke="#0a0a0a" stroke-width="0.85" stroke-linecap="butt"/>
<line x1="363.1" y1="521.1" x2="363.1" y2="511.5" stroke="#0a0a0a" stroke-width="0.85" stroke-linecap="butt"/>
<line x1="361.8" y1="511.5" x2="364.4" y2="511.5" stroke="#0a0a0a" stroke-width="0.85" stroke-linecap="butt"/>
<line x1="372.6" y1="521.9" x2="372.6" y2="516.7" stroke="#0a0a0a" stroke-width="0.85" stroke-linecap="butt"/>
<line x1="371.3" y1="516.7" x2="373.9" y2="516.7" stroke="#0a0a0a" stroke-width="0.85" stroke-linecap="butt"/>
<line x1="382.1" y1="522.5" x2="382.1" y2="517.3" stroke="#0a0a0a" stroke-width="0.85" stroke-linecap="butt"/>
<line x1="380.8" y1="517.3" x2="383.4" y2="517.3" stroke="#0a0a0a" stroke-width="0.85" stroke-linecap="butt"/>
<line x1="391.9" y1="527.7" x2="391.9" y2="523" stroke="#0a0a0a" stroke-width="0.85" stroke-linecap="butt"/>
<line x1="390.6" y1="523" x2="393.2" y2="523" stroke="#0a0a0a" stroke-width="0.85" stroke-linecap="butt"/>
<line x1="401.4" y1="534.6" x2="401.4" y2="524.8" stroke="#0a0a0a" stroke-width="0.85" stroke-linecap="butt"/>
<line x1="400.1" y1="524.8" x2="402.7" y2="524.8" stroke="#0a0a0a" stroke-width="0.85" stroke-linecap="butt"/>
<line x1="411.5" y1="545.6" x2="411.5" y2="541.2" stroke="#0a0a0a" stroke-width="0.85" stroke-linecap="butt"/>
<line x1="410.2" y1="541.2" x2="412.8" y2="541.2" stroke="#0a0a0a" stroke-width="0.85" stroke-linecap="butt"/>
<line x1="421" y1="550.8" x2="421" y2="545.6" stroke="#0a0a0a" stroke-width="0.85" stroke-linecap="butt"/>
<line x1="419.7" y1="545.6" x2="422.3" y2="545.6" stroke="#0a0a0a" stroke-width="0.85" stroke-linecap="butt"/>
<line x1="430.9" y1="550.8" x2="430.9" y2="545" stroke="#0a0a0a" stroke-width="0.85" stroke-linecap="butt"/>
<line x1="429.6" y1="545" x2="432.2" y2="545" stroke="#0a0a0a" stroke-width="0.85" stroke-linecap="butt"/>
<polyline points="343.7,519.6 353,518.2 363.1,521.1 372.6,522.5 382.1,528.3 391.9,532.6 401.4,544.1 411.5,555.7 421,562.9 430.9,562.9" fill="none" stroke="#0a0a0a" stroke-width="1.05" stroke-linejoin="round"/>
<polyline points="343.7,526.2 353,526 363.1,529.7 372.6,533.2 382.1,537.8 391.9,541.8 401.4,545 411.5,558 421,562.9 430.9,562.9" fill="none" stroke="#0a0a0a" stroke-width="1.05" stroke-linejoin="round"/>
<polyline points="343.7,516.7 353,516.7 363.1,519 372.6,522.5 382.1,525.4 391.9,529.7 401.4,538.4 411.5,549.9 421,550.8 430.9,550.8" fill="none" stroke="#0a0a0a" stroke-width="1.05" stroke-linejoin="round"/>
<polyline points="343.7,515.3 353,519 363.1,521.1 372.6,521.9 382.1,522.5 391.9,527.7 401.4,534.6 411.5,545.6 421,550.8 430.9,550.8" fill="none" stroke="#0a0a0a" stroke-width="1.05" stroke-linejoin="round"/>
<polygon points="343.7,516.5 346.8,519.6 343.7,522.7 340.6,519.6" fill="#808080" stroke="#0a0a0a" stroke-width="1"/>
<polygon points="353,515.1 356.1,518.2 353,521.3 349.9,518.2" fill="#808080" stroke="#0a0a0a" stroke-width="1"/>
<polygon points="363.1,518 366.2,521.1 363.1,524.2 360,521.1" fill="#808080" stroke="#0a0a0a" stroke-width="1"/>
<polygon points="372.6,519.4 375.7,522.5 372.6,525.6 369.5,522.5" fill="#808080" stroke="#0a0a0a" stroke-width="1"/>
<polygon points="382.1,525.2 385.2,528.3 382.1,531.4 379,528.3" fill="#808080" stroke="#0a0a0a" stroke-width="1"/>
<polygon points="391.9,529.5 395,532.6 391.9,535.7 388.8,532.6" fill="#808080" stroke="#0a0a0a" stroke-width="1"/>
<polygon points="401.4,541 404.5,544.1 401.4,547.2 398.3,544.1" fill="#808080" stroke="#0a0a0a" stroke-width="1"/>
<polygon points="411.5,552.6 414.6,555.7 411.5,558.8 408.4,555.7" fill="#808080" stroke="#0a0a0a" stroke-width="1"/>
<polygon points="421,559.8 424.1,562.9 421,566 417.9,562.9" fill="#808080" stroke="#0a0a0a" stroke-width="1"/>
<polygon points="430.9,559.8 434,562.9 430.9,566 427.8,562.9" fill="#808080" stroke="#0a0a0a" stroke-width="1"/>
<polygon points="343.7,523.1 346.8,526.2 343.7,529.3 340.6,526.2" fill="#fff" stroke="#0a0a0a" stroke-width="1"/>
<polygon points="353,522.9 356.1,526 353,529.1 349.9,526" fill="#fff" stroke="#0a0a0a" stroke-width="1"/>
<polygon points="363.1,526.6 366.2,529.7 363.1,532.8 360,529.7" fill="#fff" stroke="#0a0a0a" stroke-width="1"/>
<polygon points="372.6,530.1 375.7,533.2 372.6,536.3 369.5,533.2" fill="#fff" stroke="#0a0a0a" stroke-width="1"/>
<polygon points="382.1,534.7 385.2,537.8 382.1,540.9 379,537.8" fill="#fff" stroke="#0a0a0a" stroke-width="1"/>
<polygon points="391.9,538.7 395,541.8 391.9,544.9 388.8,541.8" fill="#fff" stroke="#0a0a0a" stroke-width="1"/>
<polygon points="401.4,541.9 404.5,545 401.4,548.1 398.3,545" fill="#fff" stroke="#0a0a0a" stroke-width="1"/>
<polygon points="411.5,554.9 414.6,558 411.5,561.1 408.4,558" fill="#fff" stroke="#0a0a0a" stroke-width="1"/>
<polygon points="421,559.8 424.1,562.9 421,566 417.9,562.9" fill="#fff" stroke="#0a0a0a" stroke-width="1"/>
<polygon points="430.9,559.8 434,562.9 430.9,566 427.8,562.9" fill="#fff" stroke="#0a0a0a" stroke-width="1"/>
<polygon points="343.7,513.3 347.1,519.59 340.3,519.59" fill="#808080" stroke="#0a0a0a" stroke-width="1"/>
<polygon points="353,513.3 356.4,519.59 349.6,519.59" fill="#808080" stroke="#0a0a0a" stroke-width="1"/>
<polygon points="363.1,515.6 366.5,521.89 359.7,521.89" fill="#808080" stroke="#0a0a0a" stroke-width="1"/>
<polygon points="372.6,519.1 376,525.39 369.2,525.39" fill="#808080" stroke="#0a0a0a" stroke-width="1"/>
<polygon points="382.1,522 385.5,528.29 378.7,528.29" fill="#808080" stroke="#0a0a0a" stroke-width="1"/>
<polygon points="391.9,526.3 395.3,532.59 388.5,532.59" fill="#808080" stroke="#0a0a0a" stroke-width="1"/>
<polygon points="401.4,535 404.8,541.29 398,541.29" fill="#808080" stroke="#0a0a0a" stroke-width="1"/>
<polygon points="411.5,546.5 414.9,552.79 408.1,552.79" fill="#808080" stroke="#0a0a0a" stroke-width="1"/>
<polygon points="421,547.4 424.4,553.69 417.6,553.69" fill="#808080" stroke="#0a0a0a" stroke-width="1"/>
<polygon points="430.9,547.4 434.3,553.69 427.5,553.69" fill="#808080" stroke="#0a0a0a" stroke-width="1"/>
<polygon points="343.7,511.9 347.1,518.19 340.3,518.19" fill="#fff" stroke="#0a0a0a" stroke-width="1"/>
<polygon points="353,515.6 356.4,521.89 349.6,521.89" fill="#fff" stroke="#0a0a0a" stroke-width="1"/>
<polygon points="363.1,517.7 366.5,523.99 359.7,523.99" fill="#fff" stroke="#0a0a0a" stroke-width="1"/>
<polygon points="372.6,518.5 376,524.79 369.2,524.79" fill="#fff" stroke="#0a0a0a" stroke-width="1"/>
<polygon points="382.1,519.1 385.5,525.39 378.7,525.39" fill="#fff" stroke="#0a0a0a" stroke-width="1"/>
<polygon points="391.9,524.3 395.3,530.59 388.5,530.59" fill="#fff" stroke="#0a0a0a" stroke-width="1"/>
<polygon points="401.4,531.2 404.8,537.49 398,537.49" fill="#fff" stroke="#0a0a0a" stroke-width="1"/>
<polygon points="411.5,542.2 414.9,548.49 408.1,548.49" fill="#fff" stroke="#0a0a0a" stroke-width="1"/>
<polygon points="421,547.4 424.4,553.69 417.6,553.69" fill="#fff" stroke="#0a0a0a" stroke-width="1"/>
<polygon points="430.9,547.4 434.3,553.69 427.5,553.69" fill="#fff" stroke="#0a0a0a" stroke-width="1"/>
<rect x="345.8" y="580.1" width="103.1" height="42.2" fill="#fff" stroke="#333" stroke-width="0.95"/>
<line x1="351" y1="587.3" x2="360.2" y2="587.3" stroke="#0a0a0a" stroke-width="0.95" stroke-linecap="butt"/>
<polygon points="355.8,585.2 357.9,587.3 355.8,589.4 353.7,587.3" fill="#808080" stroke="#0a0a0a" stroke-width="0.8"/>
<text x="363.1" y="590.14" font-size="7.9" text-anchor="start" font-weight="normal" fill="#0a0a0a" stroke="#0a0a0a" stroke-width="0.4" stroke-linejoin="round">RPTEC, m1F6-vcAFP</text>
<line x1="351" y1="596.2" x2="360.2" y2="596.2" stroke="#0a0a0a" stroke-width="0.95" stroke-linecap="butt"/>
<polygon points="355.8,594.1 357.9,596.2 355.8,598.3 353.7,596.2" fill="#fff" stroke="#0a0a0a" stroke-width="0.8"/>
<text x="363.1" y="599.04" font-size="7.9" text-anchor="start" font-weight="normal" fill="#0a0a0a" stroke="#0a0a0a" stroke-width="0.4" stroke-linejoin="round">RPTEC, m1F6-vcMMAF</text>
<line x1="351" y1="606.5" x2="360.2" y2="606.5" stroke="#0a0a0a" stroke-width="0.95" stroke-linecap="butt"/>
<polygon points="355.8,604 358,608.07 353.6,608.07" fill="#808080" stroke="#0a0a0a" stroke-width="0.8"/>
<text x="363.1" y="609.34" font-size="7.9" text-anchor="start" font-weight="normal" fill="#0a0a0a" stroke="#0a0a0a" stroke-width="0.4" stroke-linejoin="round">HRCE, m1F6-vcAFP</text>
<line x1="351" y1="615.6" x2="360.2" y2="615.6" stroke="#0a0a0a" stroke-width="0.95" stroke-linecap="butt"/>
<polygon points="355.8,613.1 358,617.17 353.6,617.17" fill="#fff" stroke="#0a0a0a" stroke-width="0.8"/>
<text x="363.1" y="618.44" font-size="7.9" text-anchor="start" font-weight="normal" fill="#0a0a0a" stroke="#0a0a0a" stroke-width="0.4" stroke-linejoin="round">HRCE, m1F6-vcMMAF</text>
<text x="298.6" y="486.3" font-size="10" text-anchor="start" font-weight="bold" fill="#0a0a0a" stroke="#0a0a0a" stroke-width="0.5" stroke-linejoin="round">F</text>
<rect x="0" y="0" width="1" height="675" fill="#000"/>
<rect x="0" y="0" width="520" height="1" fill="#000"/>
<rect x="518.75" y="0" width="1.25" height="675" fill="#000"/>
<rect x="0" y="673.75" width="520" height="1.25" fill="#000"/>
</svg>
</body>
</html>
